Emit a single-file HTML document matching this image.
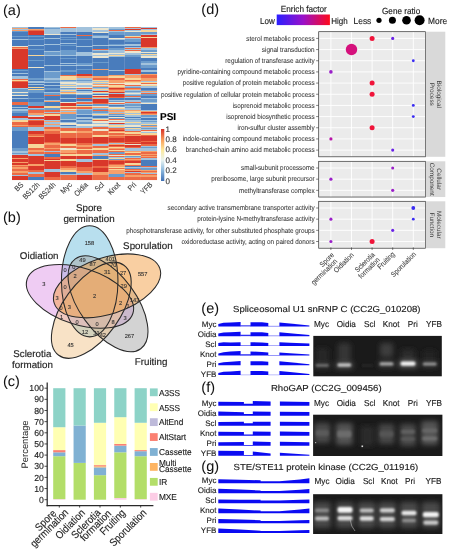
<!DOCTYPE html>
<html><head><meta charset="utf-8"><style>
html,body{margin:0;padding:0;background:#fff;width:450px;height:550px;overflow:hidden}
svg{display:block;filter:blur(0.3px)}
text{font-family:"Liberation Sans",sans-serif;text-rendering:geometricPrecision}
</style></head><body>
<svg width="450" height="550" viewBox="0 0 450 550">
<defs>
<linearGradient id="psi" x1="0" y1="1" x2="0" y2="0">
<stop offset="0" stop-color="#3f6fb5"/><stop offset="0.2" stop-color="#8ab7dd"/><stop offset="0.4" stop-color="#e8f3f0"/><stop offset="0.6" stop-color="#fee99a"/><stop offset="0.8" stop-color="#f89a58"/><stop offset="1" stop-color="#d73027"/>
</linearGradient>
<linearGradient id="enr" x1="0" y1="0" x2="1" y2="0">
<stop offset="0" stop-color="#2a1fff"/><stop offset="0.5" stop-color="#9a10c8"/><stop offset="1" stop-color="#ff0a1a"/>
</linearGradient>
<filter id="blur" x="-20%" y="-50%" width="140%" height="200%"><feGaussianBlur stdDeviation="1.25"/></filter>
<filter id="hblur" x="0" y="0" width="100%" height="100%"><feGaussianBlur stdDeviation="0.3 0.75"/></filter>
<filter id="blur2" x="-50%" y="-50%" width="200%" height="200%"><feGaussianBlur stdDeviation="2.6"/></filter>
</defs>
<text x="3.00" y="14.90" font-size="14.5" text-anchor="start" fill="#111" stroke="#111" stroke-width="0.020" font-weight="normal" >(a)</text>
<text x="3.00" y="221.80" font-size="14.5" text-anchor="start" fill="#111" stroke="#111" stroke-width="0.020" font-weight="normal" >(b)</text>
<text x="3.00" y="386.30" font-size="14.5" text-anchor="start" fill="#111" stroke="#111" stroke-width="0.020" font-weight="normal" >(c)</text>
<text x="201.30" y="14.20" font-size="14.5" text-anchor="start" fill="#111" stroke="#111" stroke-width="0.020" font-weight="normal" >(d)</text>
<text x="201.30" y="313.20" font-size="14.5" text-anchor="start" fill="#111" stroke="#111" stroke-width="0.020" font-weight="normal" >(e)</text>
<text x="201.30" y="392.20" font-size="14.5" text-anchor="start" fill="#111" stroke="#111" stroke-width="0.020" font-weight="normal" >(f)</text>
<text x="201.30" y="471.30" font-size="14.5" text-anchor="start" fill="#111" stroke="#111" stroke-width="0.020" font-weight="normal" >(g)</text>
<g filter="url(#hblur)">
<rect x="12.00" y="27.00" width="16.16" height="1.05" fill="#a2c2dc"/>
<rect x="12.00" y="28.00" width="16.16" height="1.05" fill="#f6a06a"/>
<rect x="12.00" y="29.00" width="16.16" height="1.05" fill="#a2c2dc"/>
<rect x="12.00" y="30.00" width="16.16" height="1.05" fill="#f6a06a"/>
<rect x="12.00" y="31.00" width="16.16" height="1.05" fill="#6c9ccc"/>
<rect x="12.00" y="32.00" width="16.16" height="4.05" fill="#4a7bbc"/>
<rect x="12.00" y="36.00" width="16.16" height="1.05" fill="#6c9ccc"/>
<rect x="12.00" y="37.00" width="16.16" height="2.05" fill="#4a7bbc"/>
<rect x="12.00" y="39.00" width="16.16" height="1.05" fill="#a2c2dc"/>
<rect x="12.00" y="40.00" width="16.16" height="6.05" fill="#4a7bbc"/>
<rect x="12.00" y="46.00" width="16.16" height="1.05" fill="#ece6cf"/>
<rect x="12.00" y="47.00" width="16.16" height="1.05" fill="#ec6a45"/>
<rect x="12.00" y="48.00" width="16.16" height="1.05" fill="#f6a06a"/>
<rect x="12.00" y="49.00" width="16.16" height="20.05" fill="#d9382c"/>
<rect x="12.00" y="69.00" width="16.16" height="1.05" fill="#4a7bbc"/>
<rect x="12.00" y="70.00" width="16.16" height="1.05" fill="#6c9ccc"/>
<rect x="12.00" y="71.00" width="16.16" height="2.05" fill="#4a7bbc"/>
<rect x="12.00" y="73.00" width="16.16" height="1.05" fill="#a2c2dc"/>
<rect x="12.00" y="74.00" width="16.16" height="2.05" fill="#4a7bbc"/>
<rect x="12.00" y="76.00" width="16.16" height="3.05" fill="#a2c2dc"/>
<rect x="12.00" y="79.00" width="16.16" height="1.05" fill="#ec6a45"/>
<rect x="12.00" y="80.00" width="16.16" height="1.05" fill="#f7d699"/>
<rect x="12.00" y="81.00" width="16.16" height="1.05" fill="#ec6a45"/>
<rect x="12.00" y="82.00" width="16.16" height="6.05" fill="#d9382c"/>
<rect x="12.00" y="88.00" width="16.16" height="1.05" fill="#a2c2dc"/>
<rect x="12.00" y="89.00" width="16.16" height="3.05" fill="#6c9ccc"/>
<rect x="12.00" y="92.00" width="16.16" height="1.05" fill="#ece6cf"/>
<rect x="12.00" y="93.00" width="16.16" height="2.05" fill="#6c9ccc"/>
<rect x="12.00" y="95.00" width="16.16" height="1.05" fill="#ece6cf"/>
<rect x="12.00" y="96.00" width="16.16" height="2.05" fill="#4a7bbc"/>
<rect x="12.00" y="98.00" width="16.16" height="1.05" fill="#a2c2dc"/>
<rect x="12.00" y="99.00" width="16.16" height="3.05" fill="#4a7bbc"/>
<rect x="12.00" y="102.00" width="16.16" height="3.05" fill="#ec6a45"/>
<rect x="12.00" y="105.00" width="16.16" height="2.05" fill="#4a7bbc"/>
<rect x="12.00" y="107.00" width="16.16" height="1.05" fill="#a2c2dc"/>
<rect x="12.00" y="108.00" width="16.16" height="1.05" fill="#4a7bbc"/>
<rect x="12.00" y="109.00" width="16.16" height="2.05" fill="#a2c2dc"/>
<rect x="12.00" y="111.00" width="16.16" height="2.05" fill="#6c9ccc"/>
<rect x="12.00" y="113.00" width="16.16" height="3.05" fill="#4a7bbc"/>
<rect x="12.00" y="116.00" width="16.16" height="2.05" fill="#d9382c"/>
<rect x="12.00" y="118.00" width="16.16" height="2.05" fill="#a2c2dc"/>
<rect x="12.00" y="120.00" width="16.16" height="2.05" fill="#f7d699"/>
<rect x="12.00" y="122.00" width="16.16" height="3.05" fill="#ec6a45"/>
<rect x="12.00" y="125.00" width="16.16" height="1.05" fill="#f6a06a"/>
<rect x="12.00" y="126.00" width="16.16" height="1.05" fill="#ec6a45"/>
<rect x="12.00" y="127.00" width="16.16" height="4.05" fill="#6c9ccc"/>
<rect x="12.00" y="131.00" width="16.16" height="17.05" fill="#4a7bbc"/>
<rect x="12.00" y="148.00" width="16.16" height="3.05" fill="#6c9ccc"/>
<rect x="12.00" y="151.00" width="16.16" height="2.05" fill="#a2c2dc"/>
<rect x="12.00" y="153.00" width="16.16" height="1.05" fill="#6c9ccc"/>
<rect x="12.00" y="154.00" width="16.16" height="1.05" fill="#a2c2dc"/>
<rect x="12.00" y="155.00" width="16.16" height="3.05" fill="#d9382c"/>
<rect x="12.00" y="158.00" width="16.16" height="1.05" fill="#f6a06a"/>
<rect x="12.00" y="159.00" width="16.16" height="3.05" fill="#d9382c"/>
<rect x="12.00" y="162.00" width="16.16" height="1.05" fill="#f6a06a"/>
<rect x="12.00" y="163.00" width="16.16" height="2.05" fill="#d9382c"/>
<rect x="12.00" y="165.00" width="16.16" height="1.05" fill="#f6a06a"/>
<rect x="12.00" y="166.00" width="16.16" height="1.05" fill="#ec6a45"/>
<rect x="12.00" y="167.00" width="16.16" height="2.05" fill="#f6a06a"/>
<rect x="12.00" y="169.00" width="16.16" height="2.05" fill="#ec6a45"/>
<rect x="12.00" y="171.00" width="16.16" height="2.05" fill="#f6a06a"/>
<rect x="12.00" y="173.00" width="16.16" height="2.05" fill="#ec6a45"/>
<rect x="12.00" y="175.00" width="16.16" height="1.05" fill="#a2c2dc"/>
<rect x="12.00" y="176.00" width="16.16" height="4.05" fill="#d9382c"/>
<rect x="28.11" y="27.00" width="16.16" height="2.05" fill="#4a7bbc"/>
<rect x="28.11" y="29.00" width="16.16" height="1.05" fill="#f6a06a"/>
<rect x="28.11" y="30.00" width="16.16" height="1.05" fill="#ec6a45"/>
<rect x="28.11" y="31.00" width="16.16" height="4.05" fill="#d9382c"/>
<rect x="28.11" y="35.00" width="16.16" height="1.05" fill="#4a7bbc"/>
<rect x="28.11" y="36.00" width="16.16" height="1.05" fill="#6c9ccc"/>
<rect x="28.11" y="37.00" width="16.16" height="2.05" fill="#4a7bbc"/>
<rect x="28.11" y="39.00" width="16.16" height="1.05" fill="#6c9ccc"/>
<rect x="28.11" y="40.00" width="16.16" height="5.05" fill="#4a7bbc"/>
<rect x="28.11" y="45.00" width="16.16" height="1.05" fill="#a2c2dc"/>
<rect x="28.11" y="46.00" width="16.16" height="3.05" fill="#4a7bbc"/>
<rect x="28.11" y="49.00" width="16.16" height="1.05" fill="#6c9ccc"/>
<rect x="28.11" y="50.00" width="16.16" height="5.05" fill="#4a7bbc"/>
<rect x="28.11" y="55.00" width="16.16" height="1.05" fill="#f7d699"/>
<rect x="28.11" y="56.00" width="16.16" height="4.05" fill="#4a7bbc"/>
<rect x="28.11" y="60.00" width="16.16" height="1.05" fill="#6c9ccc"/>
<rect x="28.11" y="61.00" width="16.16" height="6.05" fill="#4a7bbc"/>
<rect x="28.11" y="67.00" width="16.16" height="1.05" fill="#ece6cf"/>
<rect x="28.11" y="68.00" width="16.16" height="10.05" fill="#4a7bbc"/>
<rect x="28.11" y="78.00" width="16.16" height="2.05" fill="#6c9ccc"/>
<rect x="28.11" y="80.00" width="16.16" height="1.05" fill="#4a7bbc"/>
<rect x="28.11" y="81.00" width="16.16" height="2.05" fill="#a2c2dc"/>
<rect x="28.11" y="83.00" width="16.16" height="1.05" fill="#4a7bbc"/>
<rect x="28.11" y="84.00" width="16.16" height="1.05" fill="#a2c2dc"/>
<rect x="28.11" y="85.00" width="16.16" height="2.05" fill="#4a7bbc"/>
<rect x="28.11" y="87.00" width="16.16" height="1.05" fill="#f7d699"/>
<rect x="28.11" y="88.00" width="16.16" height="1.05" fill="#4a7bbc"/>
<rect x="28.11" y="89.00" width="16.16" height="1.05" fill="#f7d699"/>
<rect x="28.11" y="90.00" width="16.16" height="3.05" fill="#6c9ccc"/>
<rect x="28.11" y="93.00" width="16.16" height="5.05" fill="#4a7bbc"/>
<rect x="28.11" y="98.00" width="16.16" height="1.05" fill="#6c9ccc"/>
<rect x="28.11" y="99.00" width="16.16" height="3.05" fill="#4a7bbc"/>
<rect x="28.11" y="102.00" width="16.16" height="4.05" fill="#6c9ccc"/>
<rect x="28.11" y="106.00" width="16.16" height="2.05" fill="#d9382c"/>
<rect x="28.11" y="108.00" width="16.16" height="1.05" fill="#a2c2dc"/>
<rect x="28.11" y="109.00" width="16.16" height="1.05" fill="#6c9ccc"/>
<rect x="28.11" y="110.00" width="16.16" height="3.05" fill="#ec6a45"/>
<rect x="28.11" y="113.00" width="16.16" height="2.05" fill="#f6a06a"/>
<rect x="28.11" y="115.00" width="16.16" height="1.05" fill="#a2c2dc"/>
<rect x="28.11" y="116.00" width="16.16" height="1.05" fill="#ece6cf"/>
<rect x="28.11" y="117.00" width="16.16" height="2.05" fill="#d9382c"/>
<rect x="28.11" y="119.00" width="16.16" height="1.05" fill="#a2c2dc"/>
<rect x="28.11" y="120.00" width="16.16" height="1.05" fill="#ec6a45"/>
<rect x="28.11" y="121.00" width="16.16" height="4.05" fill="#d9382c"/>
<rect x="28.11" y="125.00" width="16.16" height="2.05" fill="#ec6a45"/>
<rect x="28.11" y="127.00" width="16.16" height="4.05" fill="#a2c2dc"/>
<rect x="28.11" y="131.00" width="16.16" height="3.05" fill="#d9382c"/>
<rect x="28.11" y="134.00" width="16.16" height="2.05" fill="#ec6a45"/>
<rect x="28.11" y="136.00" width="16.16" height="1.05" fill="#f6a06a"/>
<rect x="28.11" y="137.00" width="16.16" height="7.05" fill="#d9382c"/>
<rect x="28.11" y="144.00" width="16.16" height="4.05" fill="#f7d699"/>
<rect x="28.11" y="148.00" width="16.16" height="2.05" fill="#ec6a45"/>
<rect x="28.11" y="150.00" width="16.16" height="2.05" fill="#f6a06a"/>
<rect x="28.11" y="152.00" width="16.16" height="2.05" fill="#ec6a45"/>
<rect x="28.11" y="154.00" width="16.16" height="2.05" fill="#a2c2dc"/>
<rect x="28.11" y="156.00" width="16.16" height="8.05" fill="#d9382c"/>
<rect x="28.11" y="164.00" width="16.16" height="2.05" fill="#f6a06a"/>
<rect x="28.11" y="166.00" width="16.16" height="4.05" fill="#d9382c"/>
<rect x="28.11" y="170.00" width="16.16" height="2.05" fill="#ec6a45"/>
<rect x="28.11" y="172.00" width="16.16" height="2.05" fill="#a2c2dc"/>
<rect x="28.11" y="174.00" width="16.16" height="3.05" fill="#ec6a45"/>
<rect x="28.11" y="177.00" width="16.16" height="3.05" fill="#4a7bbc"/>
<rect x="44.22" y="27.00" width="16.16" height="1.05" fill="#a2c2dc"/>
<rect x="44.22" y="28.00" width="16.16" height="1.05" fill="#6c9ccc"/>
<rect x="44.22" y="29.00" width="16.16" height="5.05" fill="#a2c2dc"/>
<rect x="44.22" y="34.00" width="16.16" height="1.05" fill="#ece6cf"/>
<rect x="44.22" y="35.00" width="16.16" height="3.05" fill="#4a7bbc"/>
<rect x="44.22" y="38.00" width="16.16" height="1.05" fill="#a2c2dc"/>
<rect x="44.22" y="39.00" width="16.16" height="5.05" fill="#4a7bbc"/>
<rect x="44.22" y="44.00" width="16.16" height="1.05" fill="#a2c2dc"/>
<rect x="44.22" y="45.00" width="16.16" height="6.05" fill="#4a7bbc"/>
<rect x="44.22" y="51.00" width="16.16" height="1.05" fill="#a2c2dc"/>
<rect x="44.22" y="52.00" width="16.16" height="3.05" fill="#6c9ccc"/>
<rect x="44.22" y="55.00" width="16.16" height="1.05" fill="#a2c2dc"/>
<rect x="44.22" y="56.00" width="16.16" height="9.05" fill="#4a7bbc"/>
<rect x="44.22" y="65.00" width="16.16" height="1.05" fill="#a2c2dc"/>
<rect x="44.22" y="66.00" width="16.16" height="5.05" fill="#4a7bbc"/>
<rect x="44.22" y="71.00" width="16.16" height="1.05" fill="#a2c2dc"/>
<rect x="44.22" y="72.00" width="16.16" height="6.05" fill="#6c9ccc"/>
<rect x="44.22" y="78.00" width="16.16" height="2.05" fill="#a2c2dc"/>
<rect x="44.22" y="80.00" width="16.16" height="2.05" fill="#6c9ccc"/>
<rect x="44.22" y="82.00" width="16.16" height="1.05" fill="#a2c2dc"/>
<rect x="44.22" y="83.00" width="16.16" height="2.05" fill="#4a7bbc"/>
<rect x="44.22" y="85.00" width="16.16" height="1.05" fill="#a2c2dc"/>
<rect x="44.22" y="86.00" width="16.16" height="2.05" fill="#4a7bbc"/>
<rect x="44.22" y="88.00" width="16.16" height="2.05" fill="#6c9ccc"/>
<rect x="44.22" y="90.00" width="16.16" height="2.05" fill="#4a7bbc"/>
<rect x="44.22" y="92.00" width="16.16" height="1.05" fill="#a2c2dc"/>
<rect x="44.22" y="93.00" width="16.16" height="2.05" fill="#6c9ccc"/>
<rect x="44.22" y="95.00" width="16.16" height="1.05" fill="#ec6a45"/>
<rect x="44.22" y="96.00" width="16.16" height="4.05" fill="#4a7bbc"/>
<rect x="44.22" y="100.00" width="16.16" height="1.05" fill="#a2c2dc"/>
<rect x="44.22" y="101.00" width="16.16" height="1.05" fill="#f6a06a"/>
<rect x="44.22" y="102.00" width="16.16" height="4.05" fill="#4a7bbc"/>
<rect x="44.22" y="106.00" width="16.16" height="2.05" fill="#f7d699"/>
<rect x="44.22" y="108.00" width="16.16" height="2.05" fill="#6c9ccc"/>
<rect x="44.22" y="110.00" width="16.16" height="2.05" fill="#ec6a45"/>
<rect x="44.22" y="112.00" width="16.16" height="1.05" fill="#a2c2dc"/>
<rect x="44.22" y="113.00" width="16.16" height="1.05" fill="#ec6a45"/>
<rect x="44.22" y="114.00" width="16.16" height="2.05" fill="#f7d699"/>
<rect x="44.22" y="116.00" width="16.16" height="4.05" fill="#d9382c"/>
<rect x="44.22" y="120.00" width="16.16" height="1.05" fill="#a2c2dc"/>
<rect x="44.22" y="121.00" width="16.16" height="1.05" fill="#f6a06a"/>
<rect x="44.22" y="122.00" width="16.16" height="2.05" fill="#a2c2dc"/>
<rect x="44.22" y="124.00" width="16.16" height="1.05" fill="#f6a06a"/>
<rect x="44.22" y="125.00" width="16.16" height="2.05" fill="#a2c2dc"/>
<rect x="44.22" y="127.00" width="16.16" height="2.05" fill="#ec6a45"/>
<rect x="44.22" y="129.00" width="16.16" height="2.05" fill="#f6a06a"/>
<rect x="44.22" y="131.00" width="16.16" height="3.05" fill="#ec6a45"/>
<rect x="44.22" y="134.00" width="16.16" height="8.05" fill="#d9382c"/>
<rect x="44.22" y="142.00" width="16.16" height="1.05" fill="#ec6a45"/>
<rect x="44.22" y="143.00" width="16.16" height="2.05" fill="#f6a06a"/>
<rect x="44.22" y="145.00" width="16.16" height="3.05" fill="#ec6a45"/>
<rect x="44.22" y="148.00" width="16.16" height="1.05" fill="#f6a06a"/>
<rect x="44.22" y="149.00" width="16.16" height="2.05" fill="#ec6a45"/>
<rect x="44.22" y="151.00" width="16.16" height="1.05" fill="#a2c2dc"/>
<rect x="44.22" y="152.00" width="16.16" height="2.05" fill="#ec6a45"/>
<rect x="44.22" y="154.00" width="16.16" height="3.05" fill="#4a7bbc"/>
<rect x="44.22" y="157.00" width="16.16" height="2.05" fill="#ec6a45"/>
<rect x="44.22" y="159.00" width="16.16" height="1.05" fill="#d9382c"/>
<rect x="44.22" y="160.00" width="16.16" height="1.05" fill="#f7d699"/>
<rect x="44.22" y="161.00" width="16.16" height="8.05" fill="#d9382c"/>
<rect x="44.22" y="169.00" width="16.16" height="3.05" fill="#a2c2dc"/>
<rect x="44.22" y="172.00" width="16.16" height="5.05" fill="#d9382c"/>
<rect x="44.22" y="177.00" width="16.16" height="3.05" fill="#ec6a45"/>
<rect x="60.33" y="27.00" width="16.16" height="1.05" fill="#ec6a45"/>
<rect x="60.33" y="28.00" width="16.16" height="4.05" fill="#a2c2dc"/>
<rect x="60.33" y="32.00" width="16.16" height="2.05" fill="#4a7bbc"/>
<rect x="60.33" y="34.00" width="16.16" height="1.05" fill="#a2c2dc"/>
<rect x="60.33" y="35.00" width="16.16" height="2.05" fill="#4a7bbc"/>
<rect x="60.33" y="37.00" width="16.16" height="1.05" fill="#6c9ccc"/>
<rect x="60.33" y="38.00" width="16.16" height="1.05" fill="#4a7bbc"/>
<rect x="60.33" y="39.00" width="16.16" height="1.05" fill="#6c9ccc"/>
<rect x="60.33" y="40.00" width="16.16" height="3.05" fill="#4a7bbc"/>
<rect x="60.33" y="43.00" width="16.16" height="1.05" fill="#a2c2dc"/>
<rect x="60.33" y="44.00" width="16.16" height="1.05" fill="#4a7bbc"/>
<rect x="60.33" y="45.00" width="16.16" height="1.05" fill="#6c9ccc"/>
<rect x="60.33" y="46.00" width="16.16" height="4.05" fill="#4a7bbc"/>
<rect x="60.33" y="50.00" width="16.16" height="5.05" fill="#6c9ccc"/>
<rect x="60.33" y="55.00" width="16.16" height="1.05" fill="#a2c2dc"/>
<rect x="60.33" y="56.00" width="16.16" height="2.05" fill="#4a7bbc"/>
<rect x="60.33" y="58.00" width="16.16" height="1.05" fill="#6c9ccc"/>
<rect x="60.33" y="59.00" width="16.16" height="4.05" fill="#4a7bbc"/>
<rect x="60.33" y="63.00" width="16.16" height="1.05" fill="#a2c2dc"/>
<rect x="60.33" y="64.00" width="16.16" height="1.05" fill="#4a7bbc"/>
<rect x="60.33" y="65.00" width="16.16" height="1.05" fill="#a2c2dc"/>
<rect x="60.33" y="66.00" width="16.16" height="4.05" fill="#4a7bbc"/>
<rect x="60.33" y="70.00" width="16.16" height="2.05" fill="#6c9ccc"/>
<rect x="60.33" y="72.00" width="16.16" height="3.05" fill="#4a7bbc"/>
<rect x="60.33" y="75.00" width="16.16" height="1.05" fill="#ec6a45"/>
<rect x="60.33" y="76.00" width="16.16" height="4.05" fill="#f7d699"/>
<rect x="60.33" y="80.00" width="16.16" height="1.05" fill="#6c9ccc"/>
<rect x="60.33" y="81.00" width="16.16" height="1.05" fill="#a2c2dc"/>
<rect x="60.33" y="82.00" width="16.16" height="2.05" fill="#ece6cf"/>
<rect x="60.33" y="84.00" width="16.16" height="1.05" fill="#a2c2dc"/>
<rect x="60.33" y="85.00" width="16.16" height="1.05" fill="#f7d699"/>
<rect x="60.33" y="86.00" width="16.16" height="1.05" fill="#a2c2dc"/>
<rect x="60.33" y="87.00" width="16.16" height="1.05" fill="#ece6cf"/>
<rect x="60.33" y="88.00" width="16.16" height="1.05" fill="#6c9ccc"/>
<rect x="60.33" y="89.00" width="16.16" height="1.05" fill="#a2c2dc"/>
<rect x="60.33" y="90.00" width="16.16" height="1.05" fill="#f7d699"/>
<rect x="60.33" y="91.00" width="16.16" height="1.05" fill="#a2c2dc"/>
<rect x="60.33" y="92.00" width="16.16" height="1.05" fill="#f6a06a"/>
<rect x="60.33" y="93.00" width="16.16" height="1.05" fill="#f7d699"/>
<rect x="60.33" y="94.00" width="16.16" height="1.05" fill="#6c9ccc"/>
<rect x="60.33" y="95.00" width="16.16" height="3.05" fill="#4a7bbc"/>
<rect x="60.33" y="98.00" width="16.16" height="1.05" fill="#a2c2dc"/>
<rect x="60.33" y="99.00" width="16.16" height="3.05" fill="#4a7bbc"/>
<rect x="60.33" y="102.00" width="16.16" height="1.05" fill="#ece6cf"/>
<rect x="60.33" y="103.00" width="16.16" height="3.05" fill="#d9382c"/>
<rect x="60.33" y="106.00" width="16.16" height="1.05" fill="#f7d699"/>
<rect x="60.33" y="107.00" width="16.16" height="2.05" fill="#ec6a45"/>
<rect x="60.33" y="109.00" width="16.16" height="1.05" fill="#ece6cf"/>
<rect x="60.33" y="110.00" width="16.16" height="1.05" fill="#f6a06a"/>
<rect x="60.33" y="111.00" width="16.16" height="1.05" fill="#a2c2dc"/>
<rect x="60.33" y="112.00" width="16.16" height="2.05" fill="#f6a06a"/>
<rect x="60.33" y="114.00" width="16.16" height="5.05" fill="#6c9ccc"/>
<rect x="60.33" y="119.00" width="16.16" height="1.05" fill="#a2c2dc"/>
<rect x="60.33" y="120.00" width="16.16" height="2.05" fill="#4a7bbc"/>
<rect x="60.33" y="122.00" width="16.16" height="1.05" fill="#a2c2dc"/>
<rect x="60.33" y="123.00" width="16.16" height="2.05" fill="#ece6cf"/>
<rect x="60.33" y="125.00" width="16.16" height="1.05" fill="#4a7bbc"/>
<rect x="60.33" y="126.00" width="16.16" height="2.05" fill="#a2c2dc"/>
<rect x="60.33" y="128.00" width="16.16" height="3.05" fill="#ec6a45"/>
<rect x="60.33" y="131.00" width="16.16" height="2.05" fill="#f7d699"/>
<rect x="60.33" y="133.00" width="16.16" height="5.05" fill="#ec6a45"/>
<rect x="60.33" y="138.00" width="16.16" height="5.05" fill="#d9382c"/>
<rect x="60.33" y="143.00" width="16.16" height="1.05" fill="#ec6a45"/>
<rect x="60.33" y="144.00" width="16.16" height="2.05" fill="#f7d699"/>
<rect x="60.33" y="146.00" width="16.16" height="2.05" fill="#ec6a45"/>
<rect x="60.33" y="148.00" width="16.16" height="2.05" fill="#ece6cf"/>
<rect x="60.33" y="150.00" width="16.16" height="3.05" fill="#f6a06a"/>
<rect x="60.33" y="153.00" width="16.16" height="1.05" fill="#ec6a45"/>
<rect x="60.33" y="154.00" width="16.16" height="2.05" fill="#f7d699"/>
<rect x="60.33" y="156.00" width="16.16" height="3.05" fill="#d9382c"/>
<rect x="60.33" y="159.00" width="16.16" height="2.05" fill="#f7d699"/>
<rect x="60.33" y="161.00" width="16.16" height="5.05" fill="#d9382c"/>
<rect x="60.33" y="166.00" width="16.16" height="2.05" fill="#ec6a45"/>
<rect x="60.33" y="168.00" width="16.16" height="2.05" fill="#f6a06a"/>
<rect x="60.33" y="170.00" width="16.16" height="2.05" fill="#f7d699"/>
<rect x="60.33" y="172.00" width="16.16" height="2.05" fill="#4a7bbc"/>
<rect x="60.33" y="174.00" width="16.16" height="1.05" fill="#a2c2dc"/>
<rect x="60.33" y="175.00" width="16.16" height="5.05" fill="#ec6a45"/>
<rect x="76.44" y="27.00" width="16.16" height="5.05" fill="#a2c2dc"/>
<rect x="76.44" y="32.00" width="16.16" height="3.05" fill="#4a7bbc"/>
<rect x="76.44" y="35.00" width="16.16" height="1.05" fill="#ec6a45"/>
<rect x="76.44" y="36.00" width="16.16" height="3.05" fill="#4a7bbc"/>
<rect x="76.44" y="39.00" width="16.16" height="1.05" fill="#6c9ccc"/>
<rect x="76.44" y="40.00" width="16.16" height="6.05" fill="#4a7bbc"/>
<rect x="76.44" y="46.00" width="16.16" height="1.05" fill="#a2c2dc"/>
<rect x="76.44" y="47.00" width="16.16" height="5.05" fill="#4a7bbc"/>
<rect x="76.44" y="52.00" width="16.16" height="4.05" fill="#a2c2dc"/>
<rect x="76.44" y="56.00" width="16.16" height="7.05" fill="#4a7bbc"/>
<rect x="76.44" y="63.00" width="16.16" height="2.05" fill="#6c9ccc"/>
<rect x="76.44" y="65.00" width="16.16" height="1.05" fill="#a2c2dc"/>
<rect x="76.44" y="66.00" width="16.16" height="3.05" fill="#4a7bbc"/>
<rect x="76.44" y="69.00" width="16.16" height="1.05" fill="#6c9ccc"/>
<rect x="76.44" y="70.00" width="16.16" height="4.05" fill="#4a7bbc"/>
<rect x="76.44" y="74.00" width="16.16" height="2.05" fill="#d9382c"/>
<rect x="76.44" y="76.00" width="16.16" height="2.05" fill="#f6a06a"/>
<rect x="76.44" y="78.00" width="16.16" height="2.05" fill="#a2c2dc"/>
<rect x="76.44" y="80.00" width="16.16" height="1.05" fill="#6c9ccc"/>
<rect x="76.44" y="81.00" width="16.16" height="2.05" fill="#a2c2dc"/>
<rect x="76.44" y="83.00" width="16.16" height="2.05" fill="#ece6cf"/>
<rect x="76.44" y="85.00" width="16.16" height="2.05" fill="#a2c2dc"/>
<rect x="76.44" y="87.00" width="16.16" height="1.05" fill="#ece6cf"/>
<rect x="76.44" y="88.00" width="16.16" height="1.05" fill="#ec6a45"/>
<rect x="76.44" y="89.00" width="16.16" height="1.05" fill="#a2c2dc"/>
<rect x="76.44" y="90.00" width="16.16" height="1.05" fill="#4a7bbc"/>
<rect x="76.44" y="91.00" width="16.16" height="2.05" fill="#a2c2dc"/>
<rect x="76.44" y="93.00" width="16.16" height="1.05" fill="#ece6cf"/>
<rect x="76.44" y="94.00" width="16.16" height="1.05" fill="#a2c2dc"/>
<rect x="76.44" y="95.00" width="16.16" height="3.05" fill="#4a7bbc"/>
<rect x="76.44" y="98.00" width="16.16" height="1.05" fill="#ec6a45"/>
<rect x="76.44" y="99.00" width="16.16" height="2.05" fill="#4a7bbc"/>
<rect x="76.44" y="101.00" width="16.16" height="1.05" fill="#a2c2dc"/>
<rect x="76.44" y="102.00" width="16.16" height="2.05" fill="#ec6a45"/>
<rect x="76.44" y="104.00" width="16.16" height="1.05" fill="#a2c2dc"/>
<rect x="76.44" y="105.00" width="16.16" height="1.05" fill="#4a7bbc"/>
<rect x="76.44" y="106.00" width="16.16" height="1.05" fill="#f7d699"/>
<rect x="76.44" y="107.00" width="16.16" height="2.05" fill="#ec6a45"/>
<rect x="76.44" y="109.00" width="16.16" height="1.05" fill="#a2c2dc"/>
<rect x="76.44" y="110.00" width="16.16" height="4.05" fill="#6c9ccc"/>
<rect x="76.44" y="114.00" width="16.16" height="1.05" fill="#a2c2dc"/>
<rect x="76.44" y="115.00" width="16.16" height="2.05" fill="#4a7bbc"/>
<rect x="76.44" y="117.00" width="16.16" height="2.05" fill="#a2c2dc"/>
<rect x="76.44" y="119.00" width="16.16" height="1.05" fill="#4a7bbc"/>
<rect x="76.44" y="120.00" width="16.16" height="2.05" fill="#a2c2dc"/>
<rect x="76.44" y="122.00" width="16.16" height="2.05" fill="#6c9ccc"/>
<rect x="76.44" y="124.00" width="16.16" height="2.05" fill="#ece6cf"/>
<rect x="76.44" y="126.00" width="16.16" height="2.05" fill="#a2c2dc"/>
<rect x="76.44" y="128.00" width="16.16" height="3.05" fill="#ec6a45"/>
<rect x="76.44" y="131.00" width="16.16" height="2.05" fill="#f6a06a"/>
<rect x="76.44" y="133.00" width="16.16" height="5.05" fill="#ec6a45"/>
<rect x="76.44" y="138.00" width="16.16" height="5.05" fill="#d9382c"/>
<rect x="76.44" y="143.00" width="16.16" height="2.05" fill="#ec6a45"/>
<rect x="76.44" y="145.00" width="16.16" height="2.05" fill="#f6a06a"/>
<rect x="76.44" y="147.00" width="16.16" height="2.05" fill="#ec6a45"/>
<rect x="76.44" y="149.00" width="16.16" height="1.05" fill="#f7d699"/>
<rect x="76.44" y="150.00" width="16.16" height="4.05" fill="#ec6a45"/>
<rect x="76.44" y="154.00" width="16.16" height="2.05" fill="#f7d699"/>
<rect x="76.44" y="156.00" width="16.16" height="3.05" fill="#d9382c"/>
<rect x="76.44" y="159.00" width="16.16" height="3.05" fill="#a2c2dc"/>
<rect x="76.44" y="162.00" width="16.16" height="5.05" fill="#d9382c"/>
<rect x="76.44" y="167.00" width="16.16" height="4.05" fill="#ec6a45"/>
<rect x="76.44" y="171.00" width="16.16" height="2.05" fill="#f6a06a"/>
<rect x="76.44" y="173.00" width="16.16" height="2.05" fill="#a2c2dc"/>
<rect x="76.44" y="175.00" width="16.16" height="5.05" fill="#d9382c"/>
<rect x="92.56" y="27.00" width="16.16" height="1.05" fill="#a2c2dc"/>
<rect x="92.56" y="28.00" width="16.16" height="2.05" fill="#ece6cf"/>
<rect x="92.56" y="30.00" width="16.16" height="2.05" fill="#a2c2dc"/>
<rect x="92.56" y="32.00" width="16.16" height="1.05" fill="#ece6cf"/>
<rect x="92.56" y="33.00" width="16.16" height="2.05" fill="#4a7bbc"/>
<rect x="92.56" y="35.00" width="16.16" height="1.05" fill="#6c9ccc"/>
<rect x="92.56" y="36.00" width="16.16" height="2.05" fill="#a2c2dc"/>
<rect x="92.56" y="38.00" width="16.16" height="7.05" fill="#4a7bbc"/>
<rect x="92.56" y="45.00" width="16.16" height="1.05" fill="#a2c2dc"/>
<rect x="92.56" y="46.00" width="16.16" height="3.05" fill="#4a7bbc"/>
<rect x="92.56" y="49.00" width="16.16" height="1.05" fill="#ec6a45"/>
<rect x="92.56" y="50.00" width="16.16" height="1.05" fill="#a2c2dc"/>
<rect x="92.56" y="51.00" width="16.16" height="2.05" fill="#6c9ccc"/>
<rect x="92.56" y="53.00" width="16.16" height="2.05" fill="#ece6cf"/>
<rect x="92.56" y="55.00" width="16.16" height="1.05" fill="#a2c2dc"/>
<rect x="92.56" y="56.00" width="16.16" height="2.05" fill="#ece6cf"/>
<rect x="92.56" y="58.00" width="16.16" height="4.05" fill="#4a7bbc"/>
<rect x="92.56" y="62.00" width="16.16" height="1.05" fill="#6c9ccc"/>
<rect x="92.56" y="63.00" width="16.16" height="6.05" fill="#4a7bbc"/>
<rect x="92.56" y="69.00" width="16.16" height="1.05" fill="#f6a06a"/>
<rect x="92.56" y="70.00" width="16.16" height="6.05" fill="#4a7bbc"/>
<rect x="92.56" y="76.00" width="16.16" height="2.05" fill="#f6a06a"/>
<rect x="92.56" y="78.00" width="16.16" height="2.05" fill="#ec6a45"/>
<rect x="92.56" y="80.00" width="16.16" height="1.05" fill="#f7d699"/>
<rect x="92.56" y="81.00" width="16.16" height="1.05" fill="#a2c2dc"/>
<rect x="92.56" y="82.00" width="16.16" height="1.05" fill="#f7d699"/>
<rect x="92.56" y="83.00" width="16.16" height="1.05" fill="#a2c2dc"/>
<rect x="92.56" y="84.00" width="16.16" height="1.05" fill="#f6a06a"/>
<rect x="92.56" y="85.00" width="16.16" height="1.05" fill="#ece6cf"/>
<rect x="92.56" y="86.00" width="16.16" height="1.05" fill="#f6a06a"/>
<rect x="92.56" y="87.00" width="16.16" height="1.05" fill="#6c9ccc"/>
<rect x="92.56" y="88.00" width="16.16" height="1.05" fill="#a2c2dc"/>
<rect x="92.56" y="89.00" width="16.16" height="1.05" fill="#f7d699"/>
<rect x="92.56" y="90.00" width="16.16" height="1.05" fill="#a2c2dc"/>
<rect x="92.56" y="91.00" width="16.16" height="1.05" fill="#d9382c"/>
<rect x="92.56" y="92.00" width="16.16" height="1.05" fill="#f7d699"/>
<rect x="92.56" y="93.00" width="16.16" height="1.05" fill="#a2c2dc"/>
<rect x="92.56" y="94.00" width="16.16" height="1.05" fill="#4a7bbc"/>
<rect x="92.56" y="95.00" width="16.16" height="1.05" fill="#ece6cf"/>
<rect x="92.56" y="96.00" width="16.16" height="1.05" fill="#d9382c"/>
<rect x="92.56" y="97.00" width="16.16" height="1.05" fill="#f6a06a"/>
<rect x="92.56" y="98.00" width="16.16" height="1.05" fill="#a2c2dc"/>
<rect x="92.56" y="99.00" width="16.16" height="4.05" fill="#d9382c"/>
<rect x="92.56" y="103.00" width="16.16" height="1.05" fill="#ec6a45"/>
<rect x="92.56" y="104.00" width="16.16" height="2.05" fill="#6c9ccc"/>
<rect x="92.56" y="106.00" width="16.16" height="1.05" fill="#ece6cf"/>
<rect x="92.56" y="107.00" width="16.16" height="1.05" fill="#f6a06a"/>
<rect x="92.56" y="108.00" width="16.16" height="1.05" fill="#a2c2dc"/>
<rect x="92.56" y="109.00" width="16.16" height="1.05" fill="#6c9ccc"/>
<rect x="92.56" y="110.00" width="16.16" height="1.05" fill="#ec6a45"/>
<rect x="92.56" y="111.00" width="16.16" height="2.05" fill="#6c9ccc"/>
<rect x="92.56" y="113.00" width="16.16" height="1.05" fill="#a2c2dc"/>
<rect x="92.56" y="114.00" width="16.16" height="1.05" fill="#f7d699"/>
<rect x="92.56" y="115.00" width="16.16" height="1.05" fill="#a2c2dc"/>
<rect x="92.56" y="116.00" width="16.16" height="2.05" fill="#4a7bbc"/>
<rect x="92.56" y="118.00" width="16.16" height="1.05" fill="#a2c2dc"/>
<rect x="92.56" y="119.00" width="16.16" height="1.05" fill="#f7d699"/>
<rect x="92.56" y="120.00" width="16.16" height="1.05" fill="#ec6a45"/>
<rect x="92.56" y="121.00" width="16.16" height="2.05" fill="#ece6cf"/>
<rect x="92.56" y="123.00" width="16.16" height="1.05" fill="#a2c2dc"/>
<rect x="92.56" y="124.00" width="16.16" height="2.05" fill="#ece6cf"/>
<rect x="92.56" y="126.00" width="16.16" height="1.05" fill="#a2c2dc"/>
<rect x="92.56" y="127.00" width="16.16" height="2.05" fill="#ec6a45"/>
<rect x="92.56" y="129.00" width="16.16" height="2.05" fill="#ece6cf"/>
<rect x="92.56" y="131.00" width="16.16" height="4.05" fill="#ec6a45"/>
<rect x="92.56" y="135.00" width="16.16" height="2.05" fill="#f7d699"/>
<rect x="92.56" y="137.00" width="16.16" height="6.05" fill="#d9382c"/>
<rect x="92.56" y="143.00" width="16.16" height="1.05" fill="#ec6a45"/>
<rect x="92.56" y="144.00" width="16.16" height="2.05" fill="#a2c2dc"/>
<rect x="92.56" y="146.00" width="16.16" height="2.05" fill="#ec6a45"/>
<rect x="92.56" y="148.00" width="16.16" height="2.05" fill="#f7d699"/>
<rect x="92.56" y="150.00" width="16.16" height="3.05" fill="#ec6a45"/>
<rect x="92.56" y="153.00" width="16.16" height="2.05" fill="#a2c2dc"/>
<rect x="92.56" y="155.00" width="16.16" height="1.05" fill="#f6a06a"/>
<rect x="92.56" y="156.00" width="16.16" height="3.05" fill="#4a7bbc"/>
<rect x="92.56" y="159.00" width="16.16" height="1.05" fill="#f7d699"/>
<rect x="92.56" y="160.00" width="16.16" height="6.05" fill="#d9382c"/>
<rect x="92.56" y="166.00" width="16.16" height="2.05" fill="#ec6a45"/>
<rect x="92.56" y="168.00" width="16.16" height="4.05" fill="#d9382c"/>
<rect x="92.56" y="172.00" width="16.16" height="3.05" fill="#f6a06a"/>
<rect x="92.56" y="175.00" width="16.16" height="5.05" fill="#ec6a45"/>
<rect x="108.67" y="27.00" width="16.16" height="2.05" fill="#a2c2dc"/>
<rect x="108.67" y="29.00" width="16.16" height="1.05" fill="#6c9ccc"/>
<rect x="108.67" y="30.00" width="16.16" height="1.05" fill="#ec6a45"/>
<rect x="108.67" y="31.00" width="16.16" height="1.05" fill="#a2c2dc"/>
<rect x="108.67" y="32.00" width="16.16" height="3.05" fill="#6c9ccc"/>
<rect x="108.67" y="35.00" width="16.16" height="3.05" fill="#4a7bbc"/>
<rect x="108.67" y="38.00" width="16.16" height="1.05" fill="#ece6cf"/>
<rect x="108.67" y="39.00" width="16.16" height="1.05" fill="#a2c2dc"/>
<rect x="108.67" y="40.00" width="16.16" height="4.05" fill="#4a7bbc"/>
<rect x="108.67" y="44.00" width="16.16" height="1.05" fill="#6c9ccc"/>
<rect x="108.67" y="45.00" width="16.16" height="1.05" fill="#a2c2dc"/>
<rect x="108.67" y="46.00" width="16.16" height="2.05" fill="#4a7bbc"/>
<rect x="108.67" y="48.00" width="16.16" height="2.05" fill="#6c9ccc"/>
<rect x="108.67" y="50.00" width="16.16" height="3.05" fill="#a2c2dc"/>
<rect x="108.67" y="53.00" width="16.16" height="1.05" fill="#ece6cf"/>
<rect x="108.67" y="54.00" width="16.16" height="1.05" fill="#a2c2dc"/>
<rect x="108.67" y="55.00" width="16.16" height="1.05" fill="#f7d699"/>
<rect x="108.67" y="56.00" width="16.16" height="1.05" fill="#a2c2dc"/>
<rect x="108.67" y="57.00" width="16.16" height="13.05" fill="#4a7bbc"/>
<rect x="108.67" y="70.00" width="16.16" height="1.05" fill="#a2c2dc"/>
<rect x="108.67" y="71.00" width="16.16" height="4.05" fill="#4a7bbc"/>
<rect x="108.67" y="75.00" width="16.16" height="1.05" fill="#f6a06a"/>
<rect x="108.67" y="76.00" width="16.16" height="2.05" fill="#f7d699"/>
<rect x="108.67" y="78.00" width="16.16" height="2.05" fill="#ec6a45"/>
<rect x="108.67" y="80.00" width="16.16" height="3.05" fill="#f6a06a"/>
<rect x="108.67" y="83.00" width="16.16" height="1.05" fill="#ece6cf"/>
<rect x="108.67" y="84.00" width="16.16" height="1.05" fill="#ec6a45"/>
<rect x="108.67" y="85.00" width="16.16" height="2.05" fill="#f7d699"/>
<rect x="108.67" y="87.00" width="16.16" height="1.05" fill="#f6a06a"/>
<rect x="108.67" y="88.00" width="16.16" height="1.05" fill="#d9382c"/>
<rect x="108.67" y="89.00" width="16.16" height="1.05" fill="#ec6a45"/>
<rect x="108.67" y="90.00" width="16.16" height="2.05" fill="#f6a06a"/>
<rect x="108.67" y="92.00" width="16.16" height="1.05" fill="#d9382c"/>
<rect x="108.67" y="93.00" width="16.16" height="1.05" fill="#a2c2dc"/>
<rect x="108.67" y="94.00" width="16.16" height="3.05" fill="#d9382c"/>
<rect x="108.67" y="97.00" width="16.16" height="1.05" fill="#ec6a45"/>
<rect x="108.67" y="98.00" width="16.16" height="2.05" fill="#4a7bbc"/>
<rect x="108.67" y="100.00" width="16.16" height="1.05" fill="#a2c2dc"/>
<rect x="108.67" y="101.00" width="16.16" height="1.05" fill="#6c9ccc"/>
<rect x="108.67" y="102.00" width="16.16" height="1.05" fill="#ece6cf"/>
<rect x="108.67" y="103.00" width="16.16" height="1.05" fill="#ec6a45"/>
<rect x="108.67" y="104.00" width="16.16" height="1.05" fill="#a2c2dc"/>
<rect x="108.67" y="105.00" width="16.16" height="1.05" fill="#4a7bbc"/>
<rect x="108.67" y="106.00" width="16.16" height="1.05" fill="#6c9ccc"/>
<rect x="108.67" y="107.00" width="16.16" height="1.05" fill="#ece6cf"/>
<rect x="108.67" y="108.00" width="16.16" height="1.05" fill="#f7d699"/>
<rect x="108.67" y="109.00" width="16.16" height="1.05" fill="#a2c2dc"/>
<rect x="108.67" y="110.00" width="16.16" height="2.05" fill="#f6a06a"/>
<rect x="108.67" y="112.00" width="16.16" height="1.05" fill="#a2c2dc"/>
<rect x="108.67" y="113.00" width="16.16" height="1.05" fill="#f6a06a"/>
<rect x="108.67" y="114.00" width="16.16" height="1.05" fill="#6c9ccc"/>
<rect x="108.67" y="115.00" width="16.16" height="1.05" fill="#a2c2dc"/>
<rect x="108.67" y="116.00" width="16.16" height="1.05" fill="#4a7bbc"/>
<rect x="108.67" y="117.00" width="16.16" height="1.05" fill="#ece6cf"/>
<rect x="108.67" y="118.00" width="16.16" height="1.05" fill="#6c9ccc"/>
<rect x="108.67" y="119.00" width="16.16" height="1.05" fill="#ec6a45"/>
<rect x="108.67" y="120.00" width="16.16" height="1.05" fill="#ece6cf"/>
<rect x="108.67" y="121.00" width="16.16" height="1.05" fill="#a2c2dc"/>
<rect x="108.67" y="122.00" width="16.16" height="1.05" fill="#ece6cf"/>
<rect x="108.67" y="123.00" width="16.16" height="1.05" fill="#d9382c"/>
<rect x="108.67" y="124.00" width="16.16" height="1.05" fill="#a2c2dc"/>
<rect x="108.67" y="125.00" width="16.16" height="2.05" fill="#f7d699"/>
<rect x="108.67" y="127.00" width="16.16" height="1.05" fill="#a2c2dc"/>
<rect x="108.67" y="128.00" width="16.16" height="2.05" fill="#ec6a45"/>
<rect x="108.67" y="130.00" width="16.16" height="1.05" fill="#d9382c"/>
<rect x="108.67" y="131.00" width="16.16" height="1.05" fill="#f6a06a"/>
<rect x="108.67" y="132.00" width="16.16" height="1.05" fill="#f7d699"/>
<rect x="108.67" y="133.00" width="16.16" height="2.05" fill="#ec6a45"/>
<rect x="108.67" y="135.00" width="16.16" height="1.05" fill="#f6a06a"/>
<rect x="108.67" y="136.00" width="16.16" height="2.05" fill="#ec6a45"/>
<rect x="108.67" y="138.00" width="16.16" height="4.05" fill="#d9382c"/>
<rect x="108.67" y="142.00" width="16.16" height="1.05" fill="#ec6a45"/>
<rect x="108.67" y="143.00" width="16.16" height="1.05" fill="#a2c2dc"/>
<rect x="108.67" y="144.00" width="16.16" height="1.05" fill="#f6a06a"/>
<rect x="108.67" y="145.00" width="16.16" height="1.05" fill="#d9382c"/>
<rect x="108.67" y="146.00" width="16.16" height="1.05" fill="#ec6a45"/>
<rect x="108.67" y="147.00" width="16.16" height="1.05" fill="#f7d699"/>
<rect x="108.67" y="148.00" width="16.16" height="1.05" fill="#f6a06a"/>
<rect x="108.67" y="149.00" width="16.16" height="1.05" fill="#ec6a45"/>
<rect x="108.67" y="150.00" width="16.16" height="1.05" fill="#f7d699"/>
<rect x="108.67" y="151.00" width="16.16" height="1.05" fill="#ec6a45"/>
<rect x="108.67" y="152.00" width="16.16" height="2.05" fill="#6c9ccc"/>
<rect x="108.67" y="154.00" width="16.16" height="1.05" fill="#ec6a45"/>
<rect x="108.67" y="155.00" width="16.16" height="1.05" fill="#ece6cf"/>
<rect x="108.67" y="156.00" width="16.16" height="1.05" fill="#ec6a45"/>
<rect x="108.67" y="157.00" width="16.16" height="1.05" fill="#a2c2dc"/>
<rect x="108.67" y="158.00" width="16.16" height="1.05" fill="#f7d699"/>
<rect x="108.67" y="159.00" width="16.16" height="1.05" fill="#6c9ccc"/>
<rect x="108.67" y="160.00" width="16.16" height="1.05" fill="#ec6a45"/>
<rect x="108.67" y="161.00" width="16.16" height="3.05" fill="#d9382c"/>
<rect x="108.67" y="164.00" width="16.16" height="1.05" fill="#ec6a45"/>
<rect x="108.67" y="165.00" width="16.16" height="2.05" fill="#f6a06a"/>
<rect x="108.67" y="167.00" width="16.16" height="1.05" fill="#f7d699"/>
<rect x="108.67" y="168.00" width="16.16" height="1.05" fill="#ec6a45"/>
<rect x="108.67" y="169.00" width="16.16" height="1.05" fill="#f7d699"/>
<rect x="108.67" y="170.00" width="16.16" height="4.05" fill="#f6a06a"/>
<rect x="108.67" y="174.00" width="16.16" height="3.05" fill="#6c9ccc"/>
<rect x="108.67" y="177.00" width="16.16" height="3.05" fill="#ec6a45"/>
<rect x="124.78" y="27.00" width="16.16" height="1.05" fill="#ec6a45"/>
<rect x="124.78" y="28.00" width="16.16" height="1.05" fill="#a2c2dc"/>
<rect x="124.78" y="29.00" width="16.16" height="1.05" fill="#d9382c"/>
<rect x="124.78" y="30.00" width="16.16" height="1.05" fill="#a2c2dc"/>
<rect x="124.78" y="31.00" width="16.16" height="1.05" fill="#ece6cf"/>
<rect x="124.78" y="32.00" width="16.16" height="4.05" fill="#6c9ccc"/>
<rect x="124.78" y="36.00" width="16.16" height="1.05" fill="#f7d699"/>
<rect x="124.78" y="37.00" width="16.16" height="1.05" fill="#ec6a45"/>
<rect x="124.78" y="38.00" width="16.16" height="1.05" fill="#a2c2dc"/>
<rect x="124.78" y="39.00" width="16.16" height="3.05" fill="#6c9ccc"/>
<rect x="124.78" y="42.00" width="16.16" height="2.05" fill="#4a7bbc"/>
<rect x="124.78" y="44.00" width="16.16" height="2.05" fill="#a2c2dc"/>
<rect x="124.78" y="46.00" width="16.16" height="1.05" fill="#4a7bbc"/>
<rect x="124.78" y="47.00" width="16.16" height="1.05" fill="#a2c2dc"/>
<rect x="124.78" y="48.00" width="16.16" height="1.05" fill="#ec6a45"/>
<rect x="124.78" y="49.00" width="16.16" height="1.05" fill="#a2c2dc"/>
<rect x="124.78" y="50.00" width="16.16" height="1.05" fill="#ec6a45"/>
<rect x="124.78" y="51.00" width="16.16" height="2.05" fill="#ece6cf"/>
<rect x="124.78" y="53.00" width="16.16" height="2.05" fill="#a2c2dc"/>
<rect x="124.78" y="55.00" width="16.16" height="2.05" fill="#6c9ccc"/>
<rect x="124.78" y="57.00" width="16.16" height="12.05" fill="#4a7bbc"/>
<rect x="124.78" y="69.00" width="16.16" height="5.05" fill="#d9382c"/>
<rect x="124.78" y="74.00" width="16.16" height="1.05" fill="#a2c2dc"/>
<rect x="124.78" y="75.00" width="16.16" height="3.05" fill="#f6a06a"/>
<rect x="124.78" y="78.00" width="16.16" height="2.05" fill="#f7d699"/>
<rect x="124.78" y="80.00" width="16.16" height="1.05" fill="#ec6a45"/>
<rect x="124.78" y="81.00" width="16.16" height="1.05" fill="#f6a06a"/>
<rect x="124.78" y="82.00" width="16.16" height="1.05" fill="#f7d699"/>
<rect x="124.78" y="83.00" width="16.16" height="2.05" fill="#ece6cf"/>
<rect x="124.78" y="85.00" width="16.16" height="1.05" fill="#ec6a45"/>
<rect x="124.78" y="86.00" width="16.16" height="1.05" fill="#a2c2dc"/>
<rect x="124.78" y="87.00" width="16.16" height="1.05" fill="#6c9ccc"/>
<rect x="124.78" y="88.00" width="16.16" height="1.05" fill="#ec6a45"/>
<rect x="124.78" y="89.00" width="16.16" height="1.05" fill="#f6a06a"/>
<rect x="124.78" y="90.00" width="16.16" height="1.05" fill="#a2c2dc"/>
<rect x="124.78" y="91.00" width="16.16" height="1.05" fill="#6c9ccc"/>
<rect x="124.78" y="92.00" width="16.16" height="1.05" fill="#a2c2dc"/>
<rect x="124.78" y="93.00" width="16.16" height="1.05" fill="#ece6cf"/>
<rect x="124.78" y="94.00" width="16.16" height="1.05" fill="#a2c2dc"/>
<rect x="124.78" y="95.00" width="16.16" height="1.05" fill="#6c9ccc"/>
<rect x="124.78" y="96.00" width="16.16" height="1.05" fill="#ec6a45"/>
<rect x="124.78" y="97.00" width="16.16" height="1.05" fill="#a2c2dc"/>
<rect x="124.78" y="98.00" width="16.16" height="2.05" fill="#4a7bbc"/>
<rect x="124.78" y="100.00" width="16.16" height="2.05" fill="#a2c2dc"/>
<rect x="124.78" y="102.00" width="16.16" height="1.05" fill="#ec6a45"/>
<rect x="124.78" y="103.00" width="16.16" height="1.05" fill="#a2c2dc"/>
<rect x="124.78" y="104.00" width="16.16" height="2.05" fill="#6c9ccc"/>
<rect x="124.78" y="106.00" width="16.16" height="1.05" fill="#a2c2dc"/>
<rect x="124.78" y="107.00" width="16.16" height="1.05" fill="#6c9ccc"/>
<rect x="124.78" y="108.00" width="16.16" height="2.05" fill="#a2c2dc"/>
<rect x="124.78" y="110.00" width="16.16" height="1.05" fill="#f6a06a"/>
<rect x="124.78" y="111.00" width="16.16" height="2.05" fill="#f7d699"/>
<rect x="124.78" y="113.00" width="16.16" height="1.05" fill="#a2c2dc"/>
<rect x="124.78" y="114.00" width="16.16" height="1.05" fill="#f7d699"/>
<rect x="124.78" y="115.00" width="16.16" height="2.05" fill="#a2c2dc"/>
<rect x="124.78" y="117.00" width="16.16" height="1.05" fill="#4a7bbc"/>
<rect x="124.78" y="118.00" width="16.16" height="1.05" fill="#a2c2dc"/>
<rect x="124.78" y="119.00" width="16.16" height="1.05" fill="#6c9ccc"/>
<rect x="124.78" y="120.00" width="16.16" height="2.05" fill="#a2c2dc"/>
<rect x="124.78" y="122.00" width="16.16" height="1.05" fill="#f7d699"/>
<rect x="124.78" y="123.00" width="16.16" height="2.05" fill="#a2c2dc"/>
<rect x="124.78" y="125.00" width="16.16" height="2.05" fill="#ece6cf"/>
<rect x="124.78" y="127.00" width="16.16" height="1.05" fill="#6c9ccc"/>
<rect x="124.78" y="128.00" width="16.16" height="1.05" fill="#f7d699"/>
<rect x="124.78" y="129.00" width="16.16" height="2.05" fill="#a2c2dc"/>
<rect x="124.78" y="131.00" width="16.16" height="1.05" fill="#ec6a45"/>
<rect x="124.78" y="132.00" width="16.16" height="2.05" fill="#f7d699"/>
<rect x="124.78" y="134.00" width="16.16" height="1.05" fill="#ec6a45"/>
<rect x="124.78" y="135.00" width="16.16" height="1.05" fill="#f6a06a"/>
<rect x="124.78" y="136.00" width="16.16" height="6.05" fill="#d9382c"/>
<rect x="124.78" y="142.00" width="16.16" height="1.05" fill="#ec6a45"/>
<rect x="124.78" y="143.00" width="16.16" height="1.05" fill="#d9382c"/>
<rect x="124.78" y="144.00" width="16.16" height="1.05" fill="#ece6cf"/>
<rect x="124.78" y="145.00" width="16.16" height="2.05" fill="#d9382c"/>
<rect x="124.78" y="147.00" width="16.16" height="1.05" fill="#ec6a45"/>
<rect x="124.78" y="148.00" width="16.16" height="3.05" fill="#a2c2dc"/>
<rect x="124.78" y="151.00" width="16.16" height="1.05" fill="#f6a06a"/>
<rect x="124.78" y="152.00" width="16.16" height="1.05" fill="#f7d699"/>
<rect x="124.78" y="153.00" width="16.16" height="2.05" fill="#ec6a45"/>
<rect x="124.78" y="155.00" width="16.16" height="1.05" fill="#f7d699"/>
<rect x="124.78" y="156.00" width="16.16" height="1.05" fill="#6c9ccc"/>
<rect x="124.78" y="157.00" width="16.16" height="1.05" fill="#a2c2dc"/>
<rect x="124.78" y="158.00" width="16.16" height="1.05" fill="#ec6a45"/>
<rect x="124.78" y="159.00" width="16.16" height="1.05" fill="#f6a06a"/>
<rect x="124.78" y="160.00" width="16.16" height="1.05" fill="#ec6a45"/>
<rect x="124.78" y="161.00" width="16.16" height="2.05" fill="#d9382c"/>
<rect x="124.78" y="163.00" width="16.16" height="2.05" fill="#f7d699"/>
<rect x="124.78" y="165.00" width="16.16" height="1.05" fill="#ec6a45"/>
<rect x="124.78" y="166.00" width="16.16" height="1.05" fill="#4a7bbc"/>
<rect x="124.78" y="167.00" width="16.16" height="1.05" fill="#a2c2dc"/>
<rect x="124.78" y="168.00" width="16.16" height="1.05" fill="#6c9ccc"/>
<rect x="124.78" y="169.00" width="16.16" height="1.05" fill="#ec6a45"/>
<rect x="124.78" y="170.00" width="16.16" height="1.05" fill="#f6a06a"/>
<rect x="124.78" y="171.00" width="16.16" height="1.05" fill="#d9382c"/>
<rect x="124.78" y="172.00" width="16.16" height="1.05" fill="#a2c2dc"/>
<rect x="124.78" y="173.00" width="16.16" height="2.05" fill="#ec6a45"/>
<rect x="124.78" y="175.00" width="16.16" height="2.05" fill="#f6a06a"/>
<rect x="124.78" y="177.00" width="16.16" height="3.05" fill="#ec6a45"/>
<rect x="140.89" y="27.00" width="16.16" height="1.05" fill="#a2c2dc"/>
<rect x="140.89" y="28.00" width="16.16" height="1.05" fill="#d9382c"/>
<rect x="140.89" y="29.00" width="16.16" height="1.05" fill="#a2c2dc"/>
<rect x="140.89" y="30.00" width="16.16" height="2.05" fill="#f7d699"/>
<rect x="140.89" y="32.00" width="16.16" height="2.05" fill="#6c9ccc"/>
<rect x="140.89" y="34.00" width="16.16" height="1.05" fill="#a2c2dc"/>
<rect x="140.89" y="35.00" width="16.16" height="2.05" fill="#d9382c"/>
<rect x="140.89" y="37.00" width="16.16" height="1.05" fill="#f7d699"/>
<rect x="140.89" y="38.00" width="16.16" height="9.05" fill="#d9382c"/>
<rect x="140.89" y="47.00" width="16.16" height="1.05" fill="#f6a06a"/>
<rect x="140.89" y="48.00" width="16.16" height="2.05" fill="#a2c2dc"/>
<rect x="140.89" y="50.00" width="16.16" height="2.05" fill="#6c9ccc"/>
<rect x="140.89" y="52.00" width="16.16" height="1.05" fill="#ece6cf"/>
<rect x="140.89" y="53.00" width="16.16" height="1.05" fill="#6c9ccc"/>
<rect x="140.89" y="54.00" width="16.16" height="1.05" fill="#f7d699"/>
<rect x="140.89" y="55.00" width="16.16" height="1.05" fill="#a2c2dc"/>
<rect x="140.89" y="56.00" width="16.16" height="2.05" fill="#ece6cf"/>
<rect x="140.89" y="58.00" width="16.16" height="3.05" fill="#4a7bbc"/>
<rect x="140.89" y="61.00" width="16.16" height="2.05" fill="#6c9ccc"/>
<rect x="140.89" y="63.00" width="16.16" height="2.05" fill="#a2c2dc"/>
<rect x="140.89" y="65.00" width="16.16" height="3.05" fill="#6c9ccc"/>
<rect x="140.89" y="68.00" width="16.16" height="2.05" fill="#4a7bbc"/>
<rect x="140.89" y="70.00" width="16.16" height="2.05" fill="#a2c2dc"/>
<rect x="140.89" y="72.00" width="16.16" height="2.05" fill="#4a7bbc"/>
<rect x="140.89" y="74.00" width="16.16" height="1.05" fill="#f6a06a"/>
<rect x="140.89" y="75.00" width="16.16" height="3.05" fill="#ec6a45"/>
<rect x="140.89" y="78.00" width="16.16" height="3.05" fill="#f6a06a"/>
<rect x="140.89" y="81.00" width="16.16" height="1.05" fill="#a2c2dc"/>
<rect x="140.89" y="82.00" width="16.16" height="1.05" fill="#f7d699"/>
<rect x="140.89" y="83.00" width="16.16" height="1.05" fill="#ec6a45"/>
<rect x="140.89" y="84.00" width="16.16" height="1.05" fill="#ece6cf"/>
<rect x="140.89" y="85.00" width="16.16" height="1.05" fill="#f7d699"/>
<rect x="140.89" y="86.00" width="16.16" height="2.05" fill="#a2c2dc"/>
<rect x="140.89" y="88.00" width="16.16" height="2.05" fill="#4a7bbc"/>
<rect x="140.89" y="90.00" width="16.16" height="1.05" fill="#6c9ccc"/>
<rect x="140.89" y="91.00" width="16.16" height="1.05" fill="#f6a06a"/>
<rect x="140.89" y="92.00" width="16.16" height="1.05" fill="#a2c2dc"/>
<rect x="140.89" y="93.00" width="16.16" height="1.05" fill="#ec6a45"/>
<rect x="140.89" y="94.00" width="16.16" height="2.05" fill="#6c9ccc"/>
<rect x="140.89" y="96.00" width="16.16" height="2.05" fill="#4a7bbc"/>
<rect x="140.89" y="98.00" width="16.16" height="1.05" fill="#a2c2dc"/>
<rect x="140.89" y="99.00" width="16.16" height="3.05" fill="#6c9ccc"/>
<rect x="140.89" y="102.00" width="16.16" height="1.05" fill="#a2c2dc"/>
<rect x="140.89" y="103.00" width="16.16" height="1.05" fill="#ece6cf"/>
<rect x="140.89" y="104.00" width="16.16" height="6.05" fill="#4a7bbc"/>
<rect x="140.89" y="110.00" width="16.16" height="1.05" fill="#a2c2dc"/>
<rect x="140.89" y="111.00" width="16.16" height="1.05" fill="#f6a06a"/>
<rect x="140.89" y="112.00" width="16.16" height="1.05" fill="#d9382c"/>
<rect x="140.89" y="113.00" width="16.16" height="1.05" fill="#ec6a45"/>
<rect x="140.89" y="114.00" width="16.16" height="1.05" fill="#f6a06a"/>
<rect x="140.89" y="115.00" width="16.16" height="2.05" fill="#6c9ccc"/>
<rect x="140.89" y="117.00" width="16.16" height="1.05" fill="#a2c2dc"/>
<rect x="140.89" y="118.00" width="16.16" height="2.05" fill="#4a7bbc"/>
<rect x="140.89" y="120.00" width="16.16" height="1.05" fill="#a2c2dc"/>
<rect x="140.89" y="121.00" width="16.16" height="1.05" fill="#6c9ccc"/>
<rect x="140.89" y="122.00" width="16.16" height="2.05" fill="#a2c2dc"/>
<rect x="140.89" y="124.00" width="16.16" height="1.05" fill="#f7d699"/>
<rect x="140.89" y="125.00" width="16.16" height="1.05" fill="#6c9ccc"/>
<rect x="140.89" y="126.00" width="16.16" height="1.05" fill="#f6a06a"/>
<rect x="140.89" y="127.00" width="16.16" height="1.05" fill="#a2c2dc"/>
<rect x="140.89" y="128.00" width="16.16" height="1.05" fill="#6c9ccc"/>
<rect x="140.89" y="129.00" width="16.16" height="1.05" fill="#a2c2dc"/>
<rect x="140.89" y="130.00" width="16.16" height="1.05" fill="#ec6a45"/>
<rect x="140.89" y="131.00" width="16.16" height="1.05" fill="#ece6cf"/>
<rect x="140.89" y="132.00" width="16.16" height="1.05" fill="#a2c2dc"/>
<rect x="140.89" y="133.00" width="16.16" height="2.05" fill="#f7d699"/>
<rect x="140.89" y="135.00" width="16.16" height="1.05" fill="#ec6a45"/>
<rect x="140.89" y="136.00" width="16.16" height="5.05" fill="#d9382c"/>
<rect x="140.89" y="141.00" width="16.16" height="1.05" fill="#ec6a45"/>
<rect x="140.89" y="142.00" width="16.16" height="2.05" fill="#d9382c"/>
<rect x="140.89" y="144.00" width="16.16" height="2.05" fill="#ec6a45"/>
<rect x="140.89" y="146.00" width="16.16" height="1.05" fill="#a2c2dc"/>
<rect x="140.89" y="147.00" width="16.16" height="1.05" fill="#6c9ccc"/>
<rect x="140.89" y="148.00" width="16.16" height="3.05" fill="#a2c2dc"/>
<rect x="140.89" y="151.00" width="16.16" height="1.05" fill="#f6a06a"/>
<rect x="140.89" y="152.00" width="16.16" height="2.05" fill="#ec6a45"/>
<rect x="140.89" y="154.00" width="16.16" height="1.05" fill="#f6a06a"/>
<rect x="140.89" y="155.00" width="16.16" height="1.05" fill="#ec6a45"/>
<rect x="140.89" y="156.00" width="16.16" height="1.05" fill="#f6a06a"/>
<rect x="140.89" y="157.00" width="16.16" height="1.05" fill="#ec6a45"/>
<rect x="140.89" y="158.00" width="16.16" height="2.05" fill="#a2c2dc"/>
<rect x="140.89" y="160.00" width="16.16" height="6.05" fill="#4a7bbc"/>
<rect x="140.89" y="166.00" width="16.16" height="1.05" fill="#ec6a45"/>
<rect x="140.89" y="167.00" width="16.16" height="1.05" fill="#a2c2dc"/>
<rect x="140.89" y="168.00" width="16.16" height="2.05" fill="#6c9ccc"/>
<rect x="140.89" y="170.00" width="16.16" height="1.05" fill="#f6a06a"/>
<rect x="140.89" y="171.00" width="16.16" height="1.05" fill="#ec6a45"/>
<rect x="140.89" y="172.00" width="16.16" height="1.05" fill="#f6a06a"/>
<rect x="140.89" y="173.00" width="16.16" height="1.05" fill="#a2c2dc"/>
<rect x="140.89" y="174.00" width="16.16" height="1.05" fill="#ec6a45"/>
<rect x="140.89" y="175.00" width="16.16" height="2.05" fill="#f6a06a"/>
<rect x="140.89" y="177.00" width="16.16" height="3.05" fill="#ec6a45"/>
</g>
<g transform="translate(23.96 185.4) rotate(-45) scale(1 1.12)"><text x="0" y="0" font-size="6.8" fill="#333" stroke="#333" stroke-width="0.08" text-anchor="end">BS</text></g>
<g transform="translate(40.07 185.4) rotate(-45) scale(1 1.12)"><text x="0" y="0" font-size="6.8" fill="#333" stroke="#333" stroke-width="0.08" text-anchor="end">BS12h</text></g>
<g transform="translate(56.18 185.4) rotate(-45) scale(1 1.12)"><text x="0" y="0" font-size="6.8" fill="#333" stroke="#333" stroke-width="0.08" text-anchor="end">BS24h</text></g>
<g transform="translate(72.29 185.4) rotate(-45) scale(1 1.12)"><text x="0" y="0" font-size="6.8" fill="#333" stroke="#333" stroke-width="0.08" text-anchor="end">Myc</text></g>
<g transform="translate(88.40 185.4) rotate(-45) scale(1 1.12)"><text x="0" y="0" font-size="6.8" fill="#333" stroke="#333" stroke-width="0.08" text-anchor="end">Oidia</text></g>
<g transform="translate(104.51 185.4) rotate(-45) scale(1 1.12)"><text x="0" y="0" font-size="6.8" fill="#333" stroke="#333" stroke-width="0.08" text-anchor="end">Scl</text></g>
<g transform="translate(120.62 185.4) rotate(-45) scale(1 1.12)"><text x="0" y="0" font-size="6.8" fill="#333" stroke="#333" stroke-width="0.08" text-anchor="end">Knot</text></g>
<g transform="translate(136.73 185.4) rotate(-45) scale(1 1.12)"><text x="0" y="0" font-size="6.8" fill="#333" stroke="#333" stroke-width="0.08" text-anchor="end">Pri</text></g>
<g transform="translate(152.84 185.4) rotate(-45) scale(1 1.12)"><text x="0" y="0" font-size="6.8" fill="#333" stroke="#333" stroke-width="0.08" text-anchor="end">YFB</text></g>
<text x="160.00" y="119.50" font-size="10" text-anchor="start" fill="#000" stroke="#000" stroke-width="0.156" font-weight="bold" >PSI</text>
<rect x="161" y="129" width="3.3" height="52" fill="url(#psi)"/>
<text x="165.50" y="131.60" font-size="8" text-anchor="start" fill="#333" stroke="#333" stroke-width="0.124" font-weight="normal" >1</text>
<text x="165.50" y="142.00" font-size="8" text-anchor="start" fill="#333" stroke="#333" stroke-width="0.124" font-weight="normal" >0.8</text>
<text x="165.50" y="152.40" font-size="8" text-anchor="start" fill="#333" stroke="#333" stroke-width="0.124" font-weight="normal" >0.6</text>
<text x="165.50" y="162.80" font-size="8" text-anchor="start" fill="#333" stroke="#333" stroke-width="0.124" font-weight="normal" >0.4</text>
<text x="165.50" y="173.20" font-size="8" text-anchor="start" fill="#333" stroke="#333" stroke-width="0.124" font-weight="normal" >0.2</text>
<text x="165.50" y="183.60" font-size="8" text-anchor="start" fill="#333" stroke="#333" stroke-width="0.124" font-weight="normal" >0</text>
<ellipse cx="89.70" cy="281.27" rx="55.59" ry="28.26" transform="rotate(-90.06 89.70 281.27)" fill="rgb(113,191,221)" fill-opacity="0.5" stroke="none"/>
<ellipse cx="79.97" cy="296.35" rx="55.59" ry="28.26" transform="rotate(197.94 79.97 296.35)" fill="rgb(223,153,231)" fill-opacity="0.5" stroke="none"/>
<ellipse cx="108.03" cy="303.78" rx="55.59" ry="28.26" transform="rotate(53.94 108.03 303.78)" fill="rgb(167,167,167)" fill-opacity="0.5" stroke="none"/>
<ellipse cx="91.30" cy="310.26" rx="55.59" ry="28.26" transform="rotate(125.94 91.30 310.26)" fill="rgb(241,197,141)" fill-opacity="0.5" stroke="none"/>
<ellipse cx="107.05" cy="285.87" rx="55.59" ry="28.26" transform="rotate(-18.06 107.05 285.87)" fill="rgb(243,159,69)" fill-opacity="0.5" stroke="none"/>
<ellipse cx="89.70" cy="281.27" rx="55.59" ry="28.26" transform="rotate(-90.06 89.70 281.27)" fill="none" stroke="#2a2a2a" stroke-width="1.05"/>
<ellipse cx="107.05" cy="285.87" rx="55.59" ry="28.26" transform="rotate(-18.06 107.05 285.87)" fill="none" stroke="#2a2a2a" stroke-width="1.05"/>
<ellipse cx="108.03" cy="303.78" rx="55.59" ry="28.26" transform="rotate(53.94 108.03 303.78)" fill="none" stroke="#2a2a2a" stroke-width="1.05"/>
<ellipse cx="91.30" cy="310.26" rx="55.59" ry="28.26" transform="rotate(125.94 91.30 310.26)" fill="none" stroke="#2a2a2a" stroke-width="1.05"/>
<ellipse cx="79.97" cy="296.35" rx="55.59" ry="28.26" transform="rotate(197.94 79.97 296.35)" fill="none" stroke="#2a2a2a" stroke-width="1.05"/>
<text x="89.40" y="245.40" font-size="5.7" text-anchor="middle" fill="#303030" stroke="#303030" stroke-width="0.100" font-weight="normal" >158</text>
<text x="82.50" y="262.10" font-size="5.7" text-anchor="middle" fill="#303030" stroke="#303030" stroke-width="0.100" font-weight="normal" >49</text>
<text x="92.70" y="266.10" font-size="5.7" text-anchor="middle" fill="#303030" stroke="#303030" stroke-width="0.100" font-weight="normal" >87</text>
<text x="110.30" y="261.30" font-size="5.7" text-anchor="middle" fill="#303030" stroke="#303030" stroke-width="0.100" font-weight="normal" >401</text>
<text x="113.30" y="266.50" font-size="5.7" text-anchor="middle" fill="#303030" stroke="#303030" stroke-width="0.100" font-weight="normal" >70</text>
<text x="65.00" y="271.70" font-size="5.7" text-anchor="middle" fill="#303030" stroke="#303030" stroke-width="0.100" font-weight="normal" >0</text>
<text x="73.90" y="269.10" font-size="5.7" text-anchor="middle" fill="#303030" stroke="#303030" stroke-width="0.100" font-weight="normal" >0</text>
<text x="75.00" y="277.70" font-size="5.7" text-anchor="middle" fill="#303030" stroke="#303030" stroke-width="0.100" font-weight="normal" >2</text>
<text x="107.20" y="274.10" font-size="5.7" text-anchor="middle" fill="#303030" stroke="#303030" stroke-width="0.100" font-weight="normal" >31</text>
<text x="123.10" y="274.70" font-size="5.7" text-anchor="middle" fill="#303030" stroke="#303030" stroke-width="0.100" font-weight="normal" >27</text>
<text x="142.70" y="276.20" font-size="5.7" text-anchor="middle" fill="#303030" stroke="#303030" stroke-width="0.100" font-weight="normal" >557</text>
<text x="43.90" y="285.90" font-size="5.7" text-anchor="middle" fill="#303030" stroke="#303030" stroke-width="0.100" font-weight="normal" >3</text>
<text x="65.00" y="289.10" font-size="5.7" text-anchor="middle" fill="#303030" stroke="#303030" stroke-width="0.100" font-weight="normal" >0</text>
<text x="94.60" y="298.30" font-size="5.7" text-anchor="middle" fill="#303030" stroke="#303030" stroke-width="0.100" font-weight="normal" >2</text>
<text x="123.70" y="288.10" font-size="5.7" text-anchor="middle" fill="#303030" stroke="#303030" stroke-width="0.100" font-weight="normal" >29</text>
<text x="57.20" y="300.30" font-size="5.7" text-anchor="middle" fill="#303030" stroke="#303030" stroke-width="0.100" font-weight="normal" >3</text>
<text x="61.20" y="309.90" font-size="5.7" text-anchor="middle" fill="#303030" stroke="#303030" stroke-width="0.100" font-weight="normal" >0</text>
<text x="69.40" y="308.80" font-size="5.7" text-anchor="middle" fill="#303030" stroke="#303030" stroke-width="0.100" font-weight="normal" >3</text>
<text x="120.70" y="304.90" font-size="5.7" text-anchor="middle" fill="#303030" stroke="#303030" stroke-width="0.100" font-weight="normal" >2</text>
<text x="134.70" y="302.20" font-size="5.7" text-anchor="middle" fill="#303030" stroke="#303030" stroke-width="0.100" font-weight="normal" >143</text>
<text x="128.00" y="308.30" font-size="5.7" text-anchor="middle" fill="#303030" stroke="#303030" stroke-width="0.100" font-weight="normal" >1</text>
<text x="61.70" y="318.80" font-size="5.7" text-anchor="middle" fill="#303030" stroke="#303030" stroke-width="0.100" font-weight="normal" >1</text>
<text x="77.20" y="323.80" font-size="5.7" text-anchor="middle" fill="#303030" stroke="#303030" stroke-width="0.100" font-weight="normal" >0</text>
<text x="97.20" y="325.70" font-size="5.7" text-anchor="middle" fill="#303030" stroke="#303030" stroke-width="0.100" font-weight="normal" >0</text>
<text x="113.00" y="323.80" font-size="5.7" text-anchor="middle" fill="#303030" stroke="#303030" stroke-width="0.100" font-weight="normal" >8</text>
<text x="125.00" y="319.90" font-size="5.7" text-anchor="middle" fill="#303030" stroke="#303030" stroke-width="0.100" font-weight="normal" >3</text>
<text x="85.00" y="334.10" font-size="5.7" text-anchor="middle" fill="#303030" stroke="#303030" stroke-width="0.100" font-weight="normal" >12</text>
<text x="96.50" y="335.00" font-size="5.7" text-anchor="middle" fill="#303030" stroke="#303030" stroke-width="0.100" font-weight="normal" >31</text>
<text x="102.80" y="336.50" font-size="5.7" text-anchor="middle" fill="#303030" stroke="#303030" stroke-width="0.100" font-weight="normal" >42</text>
<text x="70.60" y="347.00" font-size="5.7" text-anchor="middle" fill="#303030" stroke="#303030" stroke-width="0.100" font-weight="normal" >45</text>
<text x="129.40" y="338.30" font-size="5.7" text-anchor="middle" fill="#303030" stroke="#303030" stroke-width="0.100" font-weight="normal" >267</text>
<text x="89.00" y="211.00" font-size="9.8" text-anchor="middle" fill="#1e1e1e" stroke="#1e1e1e" stroke-width="0.152" font-weight="normal" >Spore</text>
<text x="89.00" y="222.00" font-size="9.8" text-anchor="middle" fill="#1e1e1e" stroke="#1e1e1e" stroke-width="0.152" font-weight="normal" >germination</text>
<text x="39.20" y="259.00" font-size="9.8" text-anchor="middle" fill="#1e1e1e" stroke="#1e1e1e" stroke-width="0.152" font-weight="normal" >Oidiation</text>
<text x="147.90" y="249.20" font-size="9.8" text-anchor="middle" fill="#1e1e1e" stroke="#1e1e1e" stroke-width="0.152" font-weight="normal" >Sporulation</text>
<text x="32.30" y="356.90" font-size="9.8" text-anchor="middle" fill="#1e1e1e" stroke="#1e1e1e" stroke-width="0.152" font-weight="normal" >Sclerotia</text>
<text x="32.50" y="368.40" font-size="9.8" text-anchor="middle" fill="#1e1e1e" stroke="#1e1e1e" stroke-width="0.152" font-weight="normal" >formation</text>
<text x="151.10" y="364.70" font-size="9.8" text-anchor="middle" fill="#1e1e1e" stroke="#1e1e1e" stroke-width="0.152" font-weight="normal" >Fruiting</text>
<rect x="53.20" y="499.14" width="12.2" height="0.56" fill="#fccde5"/>
<rect x="53.20" y="456.21" width="12.2" height="42.93" fill="#b3de69"/>
<rect x="53.20" y="452.31" width="12.2" height="3.90" fill="#80b1d3"/>
<rect x="53.20" y="450.08" width="12.2" height="2.23" fill="#fb8072"/>
<rect x="53.20" y="427.23" width="12.2" height="22.86" fill="#ffffb3"/>
<rect x="53.20" y="388.20" width="12.2" height="39.02" fill="#8dd3c7"/>
<rect x="73.55" y="462.90" width="12.2" height="36.80" fill="#b3de69"/>
<rect x="73.55" y="425.55" width="12.2" height="37.35" fill="#80b1d3"/>
<rect x="73.55" y="388.20" width="12.2" height="37.35" fill="#8dd3c7"/>
<rect x="93.90" y="475.17" width="12.2" height="24.53" fill="#b3de69"/>
<rect x="93.90" y="467.37" width="12.2" height="7.80" fill="#80b1d3"/>
<rect x="93.90" y="466.25" width="12.2" height="1.11" fill="#fdb462"/>
<rect x="93.90" y="465.13" width="12.2" height="1.11" fill="#fb8072"/>
<rect x="93.90" y="422.76" width="12.2" height="42.37" fill="#ffffb3"/>
<rect x="93.90" y="388.20" width="12.2" height="34.56" fill="#8dd3c7"/>
<rect x="114.25" y="498.03" width="12.2" height="1.67" fill="#fccde5"/>
<rect x="114.25" y="452.31" width="12.2" height="45.71" fill="#b3de69"/>
<rect x="114.25" y="445.62" width="12.2" height="6.69" fill="#80b1d3"/>
<rect x="114.25" y="443.95" width="12.2" height="1.67" fill="#fb8072"/>
<rect x="114.25" y="417.19" width="12.2" height="26.76" fill="#ffffb3"/>
<rect x="114.25" y="388.20" width="12.2" height="28.99" fill="#8dd3c7"/>
<rect x="134.60" y="499.14" width="12.2" height="0.56" fill="#fccde5"/>
<rect x="134.60" y="456.21" width="12.2" height="42.93" fill="#b3de69"/>
<rect x="134.60" y="451.20" width="12.2" height="5.02" fill="#80b1d3"/>
<rect x="134.60" y="450.08" width="12.2" height="1.11" fill="#fb8072"/>
<rect x="134.60" y="422.76" width="12.2" height="27.32" fill="#ffffb3"/>
<rect x="134.60" y="388.20" width="12.2" height="34.56" fill="#8dd3c7"/>
<line x1="47.2" y1="382.6" x2="47.2" y2="506.2" stroke="#2a2a2a" stroke-width="1.25"/>
<line x1="46.6" y1="505.6" x2="153.4" y2="505.6" stroke="#2a2a2a" stroke-width="1.25"/>
<line x1="44.5" y1="499.70" x2="47.2" y2="499.70" stroke="#222" stroke-width="0.8"/>
<text x="43.80" y="502.80" font-size="8.7" text-anchor="end" fill="#222" stroke="#222" stroke-width="0.135" font-weight="normal" >0</text>
<line x1="44.5" y1="488.55" x2="47.2" y2="488.55" stroke="#222" stroke-width="0.8"/>
<text x="43.80" y="491.65" font-size="8.7" text-anchor="end" fill="#222" stroke="#222" stroke-width="0.135" font-weight="normal" >10</text>
<line x1="44.5" y1="477.40" x2="47.2" y2="477.40" stroke="#222" stroke-width="0.8"/>
<text x="43.80" y="480.50" font-size="8.7" text-anchor="end" fill="#222" stroke="#222" stroke-width="0.135" font-weight="normal" >20</text>
<line x1="44.5" y1="466.25" x2="47.2" y2="466.25" stroke="#222" stroke-width="0.8"/>
<text x="43.80" y="469.35" font-size="8.7" text-anchor="end" fill="#222" stroke="#222" stroke-width="0.135" font-weight="normal" >30</text>
<line x1="44.5" y1="455.10" x2="47.2" y2="455.10" stroke="#222" stroke-width="0.8"/>
<text x="43.80" y="458.20" font-size="8.7" text-anchor="end" fill="#222" stroke="#222" stroke-width="0.135" font-weight="normal" >40</text>
<line x1="44.5" y1="443.95" x2="47.2" y2="443.95" stroke="#222" stroke-width="0.8"/>
<text x="43.80" y="447.05" font-size="8.7" text-anchor="end" fill="#222" stroke="#222" stroke-width="0.135" font-weight="normal" >50</text>
<line x1="44.5" y1="432.80" x2="47.2" y2="432.80" stroke="#222" stroke-width="0.8"/>
<text x="43.80" y="435.90" font-size="8.7" text-anchor="end" fill="#222" stroke="#222" stroke-width="0.135" font-weight="normal" >60</text>
<line x1="44.5" y1="421.65" x2="47.2" y2="421.65" stroke="#222" stroke-width="0.8"/>
<text x="43.80" y="424.75" font-size="8.7" text-anchor="end" fill="#222" stroke="#222" stroke-width="0.135" font-weight="normal" >70</text>
<line x1="44.5" y1="410.50" x2="47.2" y2="410.50" stroke="#222" stroke-width="0.8"/>
<text x="43.80" y="413.60" font-size="8.7" text-anchor="end" fill="#222" stroke="#222" stroke-width="0.135" font-weight="normal" >80</text>
<line x1="44.5" y1="399.35" x2="47.2" y2="399.35" stroke="#222" stroke-width="0.8"/>
<text x="43.80" y="402.45" font-size="8.7" text-anchor="end" fill="#222" stroke="#222" stroke-width="0.135" font-weight="normal" >90</text>
<line x1="44.5" y1="388.20" x2="47.2" y2="388.20" stroke="#222" stroke-width="0.8"/>
<text x="43.80" y="391.30" font-size="8.7" text-anchor="end" fill="#222" stroke="#222" stroke-width="0.135" font-weight="normal" >100</text>
<line x1="59.30" y1="505.6" x2="59.30" y2="507.6" stroke="#222" stroke-width="0.8"/>
<line x1="79.65" y1="505.6" x2="79.65" y2="507.6" stroke="#222" stroke-width="0.8"/>
<line x1="100.00" y1="505.6" x2="100.00" y2="507.6" stroke="#222" stroke-width="0.8"/>
<line x1="120.35" y1="505.6" x2="120.35" y2="507.6" stroke="#222" stroke-width="0.8"/>
<line x1="140.70" y1="505.6" x2="140.70" y2="507.6" stroke="#222" stroke-width="0.8"/>
<text x="28.3" y="444.4" font-size="9.4" fill="#222" text-anchor="middle" transform="rotate(-90 28.3 444.4)">Percentage</text>
<g transform="translate(52.60 510.60) rotate(-45) scale(1 1.12)"><text x="0.6" y="4.8" font-size="9.4" fill="#222" stroke="#222" stroke-width="0.12" text-anchor="end">Spore</text></g>
<g transform="translate(64.80 509.80) rotate(-45) scale(1 1.12)"><text x="0.6" y="4.8" font-size="9.4" fill="#222" stroke="#222" stroke-width="0.12" text-anchor="end">germination</text></g>
<g transform="translate(81.40 510.20) rotate(-45) scale(1 1.12)"><text x="0.6" y="4.8" font-size="9.4" fill="#222" stroke="#222" stroke-width="0.12" text-anchor="end">Oidiation</text></g>
<g transform="translate(97.00 510.00) rotate(-45) scale(1 1.12)"><text x="0.6" y="4.8" font-size="9.4" fill="#222" stroke="#222" stroke-width="0.12" text-anchor="end">Sclerotia</text></g>
<g transform="translate(107.60 510.80) rotate(-45) scale(1 1.12)"><text x="0.6" y="4.8" font-size="9.4" fill="#222" stroke="#222" stroke-width="0.12" text-anchor="end">formation</text></g>
<g transform="translate(121.80 510.20) rotate(-45) scale(1 1.12)"><text x="0.6" y="4.8" font-size="9.4" fill="#222" stroke="#222" stroke-width="0.12" text-anchor="end">Fruiting</text></g>
<g transform="translate(143.00 510.20) rotate(-45) scale(1 1.12)"><text x="0.6" y="4.8" font-size="9.4" fill="#222" stroke="#222" stroke-width="0.12" text-anchor="end">Sporulation</text></g>
<rect x="149.9" y="388.40" width="7.8" height="7.8" fill="#8dd3c7"/>
<text transform="translate(158.90 395.60) scale(1 1.04)" font-size="8.3" text-anchor="start" fill="#222" stroke="#222" stroke-width="0.129" font-weight="normal" >A3SS</text>
<rect x="149.9" y="403.32" width="7.8" height="7.8" fill="#ffffb3"/>
<text transform="translate(158.90 410.52) scale(1 1.04)" font-size="8.3" text-anchor="start" fill="#222" stroke="#222" stroke-width="0.129" font-weight="normal" >A5SS</text>
<rect x="149.9" y="418.24" width="7.8" height="7.8" fill="#bebada"/>
<text transform="translate(158.90 425.44) scale(1 1.04)" font-size="8.3" text-anchor="start" fill="#222" stroke="#222" stroke-width="0.129" font-weight="normal" >AltEnd</text>
<rect x="149.9" y="433.16" width="7.8" height="7.8" fill="#fb8072"/>
<text transform="translate(158.90 440.36) scale(1 1.04)" font-size="8.3" text-anchor="start" fill="#222" stroke="#222" stroke-width="0.129" font-weight="normal" >AltStart</text>
<rect x="149.9" y="448.08" width="7.8" height="7.8" fill="#80b1d3"/>
<text transform="translate(158.90 455.28) scale(1 1.04)" font-size="8.3" text-anchor="start" fill="#222" stroke="#222" stroke-width="0.129" font-weight="normal" >Cassette</text>
<rect x="149.9" y="463.00" width="7.8" height="7.8" fill="#fdb462"/>
<text transform="translate(158.90 466.40) scale(1 1.04)" font-size="8.3" text-anchor="start" fill="#222" stroke="#222" stroke-width="0.129" font-weight="normal" >Multi</text>
<text transform="translate(158.90 472.40) scale(1 1.04)" font-size="8.3" text-anchor="start" fill="#222" stroke="#222" stroke-width="0.129" font-weight="normal" >Cassette</text>
<rect x="149.9" y="477.92" width="7.8" height="7.8" fill="#b3de69"/>
<text transform="translate(158.90 485.12) scale(1 1.04)" font-size="8.3" text-anchor="start" fill="#222" stroke="#222" stroke-width="0.129" font-weight="normal" >IR</text>
<rect x="149.9" y="492.84" width="7.8" height="7.8" fill="#fccde5"/>
<text transform="translate(158.90 500.04) scale(1 1.04)" font-size="8.3" text-anchor="start" fill="#222" stroke="#222" stroke-width="0.129" font-weight="normal" >MXE</text>
<rect x="318.7" y="31.70" width="106.70" height="125.10" fill="#ebebeb"/>
<line x1="318.7" y1="38.40" x2="425.4" y2="38.40" stroke="#fff" stroke-width="0.9"/>
<line x1="318.7" y1="49.57" x2="425.4" y2="49.57" stroke="#fff" stroke-width="0.9"/>
<line x1="318.7" y1="60.74" x2="425.4" y2="60.74" stroke="#fff" stroke-width="0.9"/>
<line x1="318.7" y1="71.91" x2="425.4" y2="71.91" stroke="#fff" stroke-width="0.9"/>
<line x1="318.7" y1="83.08" x2="425.4" y2="83.08" stroke="#fff" stroke-width="0.9"/>
<line x1="318.7" y1="94.25" x2="425.4" y2="94.25" stroke="#fff" stroke-width="0.9"/>
<line x1="318.7" y1="105.42" x2="425.4" y2="105.42" stroke="#fff" stroke-width="0.9"/>
<line x1="318.7" y1="116.59" x2="425.4" y2="116.59" stroke="#fff" stroke-width="0.9"/>
<line x1="318.7" y1="127.76" x2="425.4" y2="127.76" stroke="#fff" stroke-width="0.9"/>
<line x1="318.7" y1="138.93" x2="425.4" y2="138.93" stroke="#fff" stroke-width="0.9"/>
<line x1="318.7" y1="150.10" x2="425.4" y2="150.10" stroke="#fff" stroke-width="0.9"/>
<line x1="330.9" y1="31.70" x2="330.9" y2="156.80" stroke="#fff" stroke-width="0.9"/>
<line x1="351.5" y1="31.70" x2="351.5" y2="156.80" stroke="#fff" stroke-width="0.9"/>
<line x1="372.1" y1="31.70" x2="372.1" y2="156.80" stroke="#fff" stroke-width="0.9"/>
<line x1="392.7" y1="31.70" x2="392.7" y2="156.80" stroke="#fff" stroke-width="0.9"/>
<line x1="413.3" y1="31.70" x2="413.3" y2="156.80" stroke="#fff" stroke-width="0.9"/>
<circle cx="372.1" cy="38.40" r="2.5" fill="#f0143a"/>
<circle cx="392.7" cy="38.40" r="1.55" fill="#6a22e6"/>
<circle cx="351.5" cy="49.57" r="5.7" fill="#d5107c"/>
<circle cx="413.3" cy="60.74" r="1.4" fill="#3a2cf2"/>
<circle cx="330.9" cy="71.91" r="1.8" fill="#9a1fc8"/>
<circle cx="372.1" cy="83.08" r="2.5" fill="#f0143a"/>
<circle cx="372.1" cy="94.25" r="2.5" fill="#f0143a"/>
<circle cx="413.3" cy="105.42" r="1.45" fill="#3a2cf2"/>
<circle cx="413.3" cy="116.59" r="1.45" fill="#3a2cf2"/>
<circle cx="372.1" cy="127.76" r="2.5" fill="#f0143a"/>
<circle cx="330.9" cy="138.93" r="1.6" fill="#b815a8"/>
<circle cx="392.7" cy="150.10" r="1.55" fill="#6a22e6"/>
<rect x="318.7" y="31.70" width="106.70" height="125.10" fill="none" stroke="#333" stroke-width="0.7"/>
<line x1="316.09999999999997" y1="38.40" x2="318.7" y2="38.40" stroke="#333" stroke-width="0.6"/>
<text transform="translate(314.60 40.65) scale(1 1.12)" font-size="6.33" text-anchor="end" fill="#3a3a3a" stroke="#3a3a3a" stroke-width="0.070" font-weight="normal" >sterol metabolic process</text>
<line x1="316.09999999999997" y1="49.57" x2="318.7" y2="49.57" stroke="#333" stroke-width="0.6"/>
<text transform="translate(314.60 51.82) scale(1 1.12)" font-size="6.33" text-anchor="end" fill="#3a3a3a" stroke="#3a3a3a" stroke-width="0.070" font-weight="normal" >signal transduction</text>
<line x1="316.09999999999997" y1="60.74" x2="318.7" y2="60.74" stroke="#333" stroke-width="0.6"/>
<text transform="translate(314.60 62.99) scale(1 1.12)" font-size="6.33" text-anchor="end" fill="#3a3a3a" stroke="#3a3a3a" stroke-width="0.070" font-weight="normal" >regulation of transferase activity</text>
<line x1="316.09999999999997" y1="71.91" x2="318.7" y2="71.91" stroke="#333" stroke-width="0.6"/>
<text transform="translate(314.60 74.16) scale(1 1.12)" font-size="6.33" text-anchor="end" fill="#3a3a3a" stroke="#3a3a3a" stroke-width="0.070" font-weight="normal" >pyridine-containing compound metabolic process</text>
<line x1="316.09999999999997" y1="83.08" x2="318.7" y2="83.08" stroke="#333" stroke-width="0.6"/>
<text transform="translate(314.60 85.33) scale(1 1.12)" font-size="6.33" text-anchor="end" fill="#3a3a3a" stroke="#3a3a3a" stroke-width="0.070" font-weight="normal" >positive regulation of protein metabolic process</text>
<line x1="316.09999999999997" y1="94.25" x2="318.7" y2="94.25" stroke="#333" stroke-width="0.6"/>
<text transform="translate(314.60 96.50) scale(1 1.12)" font-size="6.33" text-anchor="end" fill="#3a3a3a" stroke="#3a3a3a" stroke-width="0.070" font-weight="normal" >positive regulation of cellular protein metabolic process</text>
<line x1="316.09999999999997" y1="105.42" x2="318.7" y2="105.42" stroke="#333" stroke-width="0.6"/>
<text transform="translate(314.60 107.67) scale(1 1.12)" font-size="6.33" text-anchor="end" fill="#3a3a3a" stroke="#3a3a3a" stroke-width="0.070" font-weight="normal" >isoprenoid metabolic process</text>
<line x1="316.09999999999997" y1="116.59" x2="318.7" y2="116.59" stroke="#333" stroke-width="0.6"/>
<text transform="translate(314.60 118.84) scale(1 1.12)" font-size="6.33" text-anchor="end" fill="#3a3a3a" stroke="#3a3a3a" stroke-width="0.070" font-weight="normal" >isoprenoid biosynthetic process</text>
<line x1="316.09999999999997" y1="127.76" x2="318.7" y2="127.76" stroke="#333" stroke-width="0.6"/>
<text transform="translate(314.60 130.01) scale(1 1.12)" font-size="6.33" text-anchor="end" fill="#3a3a3a" stroke="#3a3a3a" stroke-width="0.070" font-weight="normal" >iron-sulfur cluster assembly</text>
<line x1="316.09999999999997" y1="138.93" x2="318.7" y2="138.93" stroke="#333" stroke-width="0.6"/>
<text transform="translate(314.60 141.18) scale(1 1.12)" font-size="6.33" text-anchor="end" fill="#3a3a3a" stroke="#3a3a3a" stroke-width="0.070" font-weight="normal" >indole-containing compound metabolic process</text>
<line x1="316.09999999999997" y1="150.10" x2="318.7" y2="150.10" stroke="#333" stroke-width="0.6"/>
<text transform="translate(314.60 152.35) scale(1 1.12)" font-size="6.33" text-anchor="end" fill="#3a3a3a" stroke="#3a3a3a" stroke-width="0.070" font-weight="normal" >branched-chain amino acid metabolic process</text>
<rect x="425.9" y="31.70" width="19.4" height="125.10" fill="#d9d9d9"/>
<g transform="translate(435.6 94.25) rotate(90)"><text x="0" y="-1.6" font-size="6.4" fill="#3a3a3a" text-anchor="middle">Biological</text><text x="0" y="5.6" font-size="6.4" fill="#3a3a3a" text-anchor="middle">Process</text></g>
<rect x="318.7" y="161.30" width="106.70" height="35.74" fill="#ebebeb"/>
<line x1="318.7" y1="168.00" x2="425.4" y2="168.00" stroke="#fff" stroke-width="0.9"/>
<line x1="318.7" y1="179.17" x2="425.4" y2="179.17" stroke="#fff" stroke-width="0.9"/>
<line x1="318.7" y1="190.34" x2="425.4" y2="190.34" stroke="#fff" stroke-width="0.9"/>
<line x1="330.9" y1="161.30" x2="330.9" y2="197.04" stroke="#fff" stroke-width="0.9"/>
<line x1="351.5" y1="161.30" x2="351.5" y2="197.04" stroke="#fff" stroke-width="0.9"/>
<line x1="372.1" y1="161.30" x2="372.1" y2="197.04" stroke="#fff" stroke-width="0.9"/>
<line x1="392.7" y1="161.30" x2="392.7" y2="197.04" stroke="#fff" stroke-width="0.9"/>
<line x1="413.3" y1="161.30" x2="413.3" y2="197.04" stroke="#fff" stroke-width="0.9"/>
<circle cx="392.7" cy="168.00" r="1.5" fill="#9a1fc8"/>
<circle cx="330.9" cy="179.17" r="1.6" fill="#9a1fc8"/>
<circle cx="392.7" cy="190.34" r="1.6" fill="#9a1fc8"/>
<rect x="318.7" y="161.30" width="106.70" height="35.74" fill="none" stroke="#333" stroke-width="0.7"/>
<line x1="316.09999999999997" y1="168.00" x2="318.7" y2="168.00" stroke="#333" stroke-width="0.6"/>
<text transform="translate(314.60 170.25) scale(1 1.12)" font-size="6.33" text-anchor="end" fill="#3a3a3a" stroke="#3a3a3a" stroke-width="0.070" font-weight="normal" >small-subunit processome</text>
<line x1="316.09999999999997" y1="179.17" x2="318.7" y2="179.17" stroke="#333" stroke-width="0.6"/>
<text transform="translate(314.60 181.42) scale(1 1.12)" font-size="6.33" text-anchor="end" fill="#3a3a3a" stroke="#3a3a3a" stroke-width="0.070" font-weight="normal" >preribosome, large subunit precursor</text>
<line x1="316.09999999999997" y1="190.34" x2="318.7" y2="190.34" stroke="#333" stroke-width="0.6"/>
<text transform="translate(314.60 192.59) scale(1 1.12)" font-size="6.33" text-anchor="end" fill="#3a3a3a" stroke="#3a3a3a" stroke-width="0.070" font-weight="normal" >methyltransferase complex</text>
<rect x="425.9" y="161.30" width="19.4" height="35.74" fill="#d9d9d9"/>
<g transform="translate(435.6 179.17) rotate(90)"><text x="0" y="-1.6" font-size="6.4" fill="#3a3a3a" text-anchor="middle">Cellular</text><text x="0" y="5.6" font-size="6.4" fill="#3a3a3a" text-anchor="middle">Component</text></g>
<rect x="318.7" y="201.30" width="106.70" height="46.91" fill="#ebebeb"/>
<line x1="318.7" y1="208.00" x2="425.4" y2="208.00" stroke="#fff" stroke-width="0.9"/>
<line x1="318.7" y1="219.17" x2="425.4" y2="219.17" stroke="#fff" stroke-width="0.9"/>
<line x1="318.7" y1="230.34" x2="425.4" y2="230.34" stroke="#fff" stroke-width="0.9"/>
<line x1="318.7" y1="241.51" x2="425.4" y2="241.51" stroke="#fff" stroke-width="0.9"/>
<line x1="330.9" y1="201.30" x2="330.9" y2="248.21" stroke="#fff" stroke-width="0.9"/>
<line x1="351.5" y1="201.30" x2="351.5" y2="248.21" stroke="#fff" stroke-width="0.9"/>
<line x1="372.1" y1="201.30" x2="372.1" y2="248.21" stroke="#fff" stroke-width="0.9"/>
<line x1="392.7" y1="201.30" x2="392.7" y2="248.21" stroke="#fff" stroke-width="0.9"/>
<line x1="413.3" y1="201.30" x2="413.3" y2="248.21" stroke="#fff" stroke-width="0.9"/>
<circle cx="413.3" cy="208.00" r="1.9" fill="#3a2cf2"/>
<circle cx="330.9" cy="219.17" r="1.55" fill="#9a1fc8"/>
<circle cx="413.3" cy="219.17" r="1.4" fill="#3a2cf2"/>
<circle cx="392.7" cy="230.34" r="1.55" fill="#6a22e6"/>
<circle cx="330.9" cy="241.51" r="1.55" fill="#9a1fc8"/>
<circle cx="372.1" cy="241.51" r="2.5" fill="#f0143a"/>
<rect x="318.7" y="201.30" width="106.70" height="46.91" fill="none" stroke="#333" stroke-width="0.7"/>
<line x1="316.09999999999997" y1="208.00" x2="318.7" y2="208.00" stroke="#333" stroke-width="0.6"/>
<text transform="translate(314.60 210.25) scale(1 1.12)" font-size="6.33" text-anchor="end" fill="#3a3a3a" stroke="#3a3a3a" stroke-width="0.070" font-weight="normal" >secondary active transmembrane transporter activity</text>
<line x1="316.09999999999997" y1="219.17" x2="318.7" y2="219.17" stroke="#333" stroke-width="0.6"/>
<text transform="translate(314.60 221.42) scale(1 1.12)" font-size="6.33" text-anchor="end" fill="#3a3a3a" stroke="#3a3a3a" stroke-width="0.070" font-weight="normal" >protein-lysine N-methyltransferase activity</text>
<line x1="316.09999999999997" y1="230.34" x2="318.7" y2="230.34" stroke="#333" stroke-width="0.6"/>
<text transform="translate(314.60 232.59) scale(1 1.12)" font-size="6.33" text-anchor="end" fill="#3a3a3a" stroke="#3a3a3a" stroke-width="0.070" font-weight="normal" >phosphotransferase activity, for other substituted phosphate groups</text>
<line x1="316.09999999999997" y1="241.51" x2="318.7" y2="241.51" stroke="#333" stroke-width="0.6"/>
<text transform="translate(314.60 243.76) scale(1 1.12)" font-size="6.33" text-anchor="end" fill="#3a3a3a" stroke="#3a3a3a" stroke-width="0.070" font-weight="normal" >oxidoreductase activity, acting on paired donors</text>
<rect x="425.9" y="201.30" width="19.4" height="46.91" fill="#d9d9d9"/>
<g transform="translate(435.6 224.76) rotate(90)"><text x="0" y="-1.6" font-size="6.4" fill="#3a3a3a" text-anchor="middle">Molecular</text><text x="0" y="5.6" font-size="6.4" fill="#3a3a3a" text-anchor="middle">Function</text></g>
<line x1="330.9" y1="247.3" x2="330.9" y2="250" stroke="#333" stroke-width="0.6"/>
<line x1="351.5" y1="247.3" x2="351.5" y2="250" stroke="#333" stroke-width="0.6"/>
<line x1="372.1" y1="247.3" x2="372.1" y2="250" stroke="#333" stroke-width="0.6"/>
<line x1="392.7" y1="247.3" x2="392.7" y2="250" stroke="#333" stroke-width="0.6"/>
<line x1="413.3" y1="247.3" x2="413.3" y2="250" stroke="#333" stroke-width="0.6"/>
<g transform="translate(331.80 253.40) rotate(-45) scale(1 1.14)"><text x="0.4" y="3.0" font-size="6.4" fill="#444" stroke="#444" stroke-width="0.08" text-anchor="end">Spore</text></g>
<g transform="translate(335.00 259.50) rotate(-45) scale(1 1.14)"><text x="0.4" y="3.0" font-size="6.4" fill="#444" stroke="#444" stroke-width="0.08" text-anchor="end">germination</text></g>
<g transform="translate(351.60 253.40) rotate(-45) scale(1 1.14)"><text x="0.4" y="3.0" font-size="6.4" fill="#444" stroke="#444" stroke-width="0.08" text-anchor="end">Oidiation</text></g>
<g transform="translate(372.60 253.00) rotate(-45) scale(1 1.14)"><text x="0.4" y="3.0" font-size="6.4" fill="#444" stroke="#444" stroke-width="0.08" text-anchor="end">Sclerotia</text></g>
<g transform="translate(377.50 258.00) rotate(-45) scale(1 1.14)"><text x="0.4" y="3.0" font-size="6.4" fill="#444" stroke="#444" stroke-width="0.08" text-anchor="end">formation</text></g>
<g transform="translate(392.60 252.60) rotate(-45) scale(1 1.14)"><text x="0.4" y="3.0" font-size="6.4" fill="#444" stroke="#444" stroke-width="0.08" text-anchor="end">Fruiting</text></g>
<g transform="translate(413.80 252.60) rotate(-45) scale(1 1.14)"><text x="0.4" y="3.0" font-size="6.4" fill="#444" stroke="#444" stroke-width="0.08" text-anchor="end">Sporulation</text></g>
<text transform="translate(280.80 12.20) scale(1 1.08)" font-size="8.2" text-anchor="start" fill="#1a1a1a" stroke="#1a1a1a" stroke-width="0.128" font-weight="normal" >Enrich factor</text>
<rect x="276.7" y="14.5" width="53.2" height="10.6" fill="url(#enr)"/>
<text transform="translate(274.80 23.90) scale(1 1.1)" font-size="8.0" text-anchor="end" fill="#1a1a1a" stroke="#1a1a1a" stroke-width="0.124" font-weight="normal" >Low</text>
<text transform="translate(331.20 23.90) scale(1 1.1)" font-size="8.0" text-anchor="start" fill="#1a1a1a" stroke="#1a1a1a" stroke-width="0.124" font-weight="normal" >High</text>
<text transform="translate(382.00 14.00) scale(1 1.08)" font-size="8.2" text-anchor="start" fill="#1a1a1a" stroke="#1a1a1a" stroke-width="0.128" font-weight="normal" >Gene ratio</text>
<text transform="translate(353.60 23.70) scale(1 1.08)" font-size="8.4" text-anchor="start" fill="#1a1a1a" stroke="#1a1a1a" stroke-width="0.131" font-weight="normal" >Less</text>
<circle cx="379" cy="20.3" r="2.6" fill="#000"/>
<circle cx="392.4" cy="20.3" r="3.5" fill="#000"/>
<circle cx="406.5" cy="20.3" r="4.3" fill="#000"/>
<circle cx="419.6" cy="20.3" r="5.0" fill="#000"/>
<text transform="translate(428.00 23.70) scale(1 1.08)" font-size="8.4" text-anchor="start" fill="#1a1a1a" stroke="#1a1a1a" stroke-width="0.131" font-weight="normal" >More</text>
<text transform="translate(233.00 312.00) scale(1 0.91)" font-size="9.6" text-anchor="start" fill="#1a1a1a" stroke="#1a1a1a" stroke-width="0.149" font-weight="normal" >Spliceosomal U1 snRNP C (CC2G_010208)</text>
<text x="216.40" y="326.90" font-size="8" text-anchor="end" fill="#1a1a1a" stroke="#1a1a1a" stroke-width="0.124" font-weight="normal" >Myc</text>
<text x="216.40" y="337.00" font-size="8" text-anchor="end" fill="#1a1a1a" stroke="#1a1a1a" stroke-width="0.124" font-weight="normal" >Oidia</text>
<text x="216.40" y="347.10" font-size="8" text-anchor="end" fill="#1a1a1a" stroke="#1a1a1a" stroke-width="0.124" font-weight="normal" >Scl</text>
<text x="216.40" y="357.20" font-size="8" text-anchor="end" fill="#1a1a1a" stroke="#1a1a1a" stroke-width="0.124" font-weight="normal" >Knot</text>
<text x="216.40" y="367.30" font-size="8" text-anchor="end" fill="#1a1a1a" stroke="#1a1a1a" stroke-width="0.124" font-weight="normal" >Pri</text>
<text x="216.40" y="377.40" font-size="8" text-anchor="end" fill="#1a1a1a" stroke="#1a1a1a" stroke-width="0.124" font-weight="normal" >YFB</text>
<rect x="240.30" y="325.30" width="10.60" height="1.10" fill="#0b0bf2" opacity="0.85"/>
<rect x="268.00" y="325.90" width="11.70" height="0.50" fill="#0b0bf2" opacity="0.85"/>
<polygon points="218.30,326.40 218.30,324.00 223.50,322.80 223.50,322.80 230.50,322.40 230.50,322.40 240.60,321.90 240.60,326.40" fill="#0b0bf2"/>
<polygon points="250.50,326.40 250.50,322.20 262.00,322.30 262.00,322.30 268.30,323.00 268.30,326.40" fill="#0b0bf2"/>
<polygon points="279.40,326.40 279.40,322.40 290.00,323.40 290.00,323.40 309.40,325.40 309.40,326.40" fill="#0b0bf2"/>
<rect x="240.30" y="334.74" width="10.60" height="1.40" fill="#0b0bf2" opacity="0.85"/>
<rect x="268.00" y="335.64" width="11.70" height="0.50" fill="#0b0bf2" opacity="0.85"/>
<polygon points="218.30,336.14 218.30,333.54 223.50,332.49 223.50,332.49 230.50,332.24 230.50,332.24 240.60,331.84 240.60,336.14" fill="#0b0bf2"/>
<polygon points="250.50,336.14 250.50,332.14 262.00,332.24 262.00,332.24 268.30,332.94 268.30,336.14" fill="#0b0bf2"/>
<polygon points="279.40,336.14 279.40,332.34 290.00,333.24 290.00,333.24 309.40,334.94 309.40,336.14" fill="#0b0bf2"/>
<rect x="240.30" y="345.28" width="10.60" height="0.60" fill="#0b0bf2" opacity="0.85"/>
<rect x="268.00" y="345.48" width="11.70" height="0.40" fill="#0b0bf2" opacity="0.85"/>
<polygon points="218.30,345.88 218.30,342.88 223.50,342.23 223.50,342.23 230.50,342.38 230.50,342.38 240.60,342.18 240.60,345.88" fill="#0b0bf2"/>
<polygon points="250.50,345.88 250.50,342.28 262.00,342.38 262.00,342.38 268.30,342.88 268.30,345.88" fill="#0b0bf2"/>
<polygon points="279.40,345.88 279.40,342.28 290.00,342.68 290.00,342.68 309.40,343.48 309.40,345.88" fill="#0b0bf2"/>
<rect x="240.30" y="354.22" width="10.60" height="1.40" fill="#0b0bf2" opacity="0.85"/>
<rect x="268.00" y="355.12" width="11.70" height="0.50" fill="#0b0bf2" opacity="0.85"/>
<polygon points="218.30,355.62 218.30,353.62 223.50,352.22 223.50,352.22 230.50,351.62 230.50,351.62 240.60,351.02 240.60,355.62" fill="#0b0bf2"/>
<polygon points="250.50,355.62 250.50,351.42 262.00,352.02 262.00,352.02 268.30,352.62 268.30,355.62" fill="#0b0bf2"/>
<polygon points="279.40,355.62 279.40,352.42 290.00,353.22 290.00,353.22 309.40,354.62 309.40,355.62" fill="#0b0bf2"/>
<polygon points="218.30,365.36 218.30,363.36 223.50,362.16 223.50,362.16 230.50,361.76 230.50,361.76 240.60,360.96 240.60,365.36" fill="#0b0bf2"/>
<polygon points="250.50,365.36 250.50,361.36 262.00,361.36 262.00,361.36 268.30,361.76 268.30,365.36" fill="#0b0bf2"/>
<polygon points="279.40,365.36 279.40,361.16 290.00,362.16 290.00,362.16 309.40,364.16 309.40,365.36" fill="#0b0bf2"/>
<rect x="240.30" y="374.80" width="10.60" height="0.30" fill="#0b0bf2" opacity="0.85"/>
<rect x="268.00" y="374.80" width="11.70" height="0.30" fill="#0b0bf2" opacity="0.85"/>
<polygon points="218.30,375.10 218.30,372.90 223.50,371.75 223.50,371.75 230.50,371.40 230.50,371.40 240.60,370.70 240.60,375.10" fill="#0b0bf2"/>
<polygon points="250.50,375.10 250.50,371.10 262.00,371.10 262.00,371.10 268.30,371.50 268.30,375.10" fill="#0b0bf2"/>
<polygon points="279.40,375.10 279.40,371.10 290.00,372.10 290.00,372.10 309.40,373.90 309.40,375.10" fill="#0b0bf2"/>
<text transform="translate(314.00 326.80) scale(1 1.05)" font-size="8.2" text-anchor="start" fill="#1a1a1a" stroke="#1a1a1a" stroke-width="0.128" font-weight="normal" >Myc</text>
<text transform="translate(336.70 326.80) scale(1 1.05)" font-size="8.2" text-anchor="start" fill="#1a1a1a" stroke="#1a1a1a" stroke-width="0.128" font-weight="normal" >Oidia</text>
<text transform="translate(364.00 326.80) scale(1 1.05)" font-size="8.2" text-anchor="start" fill="#1a1a1a" stroke="#1a1a1a" stroke-width="0.128" font-weight="normal" >Scl</text>
<text transform="translate(382.70 326.80) scale(1 1.05)" font-size="8.2" text-anchor="start" fill="#1a1a1a" stroke="#1a1a1a" stroke-width="0.128" font-weight="normal" >Knot</text>
<text transform="translate(407.70 326.80) scale(1 1.05)" font-size="8.2" text-anchor="start" fill="#1a1a1a" stroke="#1a1a1a" stroke-width="0.128" font-weight="normal" >Pri</text>
<text transform="translate(426.00 326.80) scale(1 1.05)" font-size="8.2" text-anchor="start" fill="#1a1a1a" stroke="#1a1a1a" stroke-width="0.128" font-weight="normal" >YFB</text>
<text transform="translate(270.90 391.00) scale(1 0.91)" font-size="9.6" text-anchor="start" fill="#1a1a1a" stroke="#1a1a1a" stroke-width="0.149" font-weight="normal" >RhoGAP (CC2G_009456)</text>
<text x="216.40" y="405.90" font-size="8" text-anchor="end" fill="#1a1a1a" stroke="#1a1a1a" stroke-width="0.124" font-weight="normal" >Myc</text>
<text x="216.40" y="415.98" font-size="8" text-anchor="end" fill="#1a1a1a" stroke="#1a1a1a" stroke-width="0.124" font-weight="normal" >Oidia</text>
<text x="216.40" y="426.06" font-size="8" text-anchor="end" fill="#1a1a1a" stroke="#1a1a1a" stroke-width="0.124" font-weight="normal" >Scl</text>
<text x="216.40" y="436.14" font-size="8" text-anchor="end" fill="#1a1a1a" stroke="#1a1a1a" stroke-width="0.124" font-weight="normal" >Knot</text>
<text x="216.40" y="446.22" font-size="8" text-anchor="end" fill="#1a1a1a" stroke="#1a1a1a" stroke-width="0.124" font-weight="normal" >Pri</text>
<text x="216.40" y="456.30" font-size="8" text-anchor="end" fill="#1a1a1a" stroke="#1a1a1a" stroke-width="0.124" font-weight="normal" >YFB</text>
<polygon points="218.30,405.70 218.30,401.70 243.90,402.10 243.90,403.70 252.80,403.70 252.80,401.10 270.60,401.50 270.60,405.70" fill="#0b0bf2"/>
<polygon points="279.90,405.70 279.90,401.50 309.40,401.90 309.40,405.70" fill="#0b0bf2"/>
<polygon points="218.30,415.70 218.30,411.50 243.90,412.30 243.90,414.10 252.80,414.10 252.80,411.50 270.60,411.70 270.60,415.70" fill="#0b0bf2"/>
<polygon points="279.90,415.70 279.90,411.70 309.40,411.90 309.40,415.70" fill="#0b0bf2"/>
<polygon points="218.30,425.70 218.30,422.10 243.90,421.70 243.90,423.30 252.80,423.30 252.80,421.70 270.60,421.70 270.60,425.70" fill="#0b0bf2"/>
<polygon points="279.90,425.70 279.90,421.70 309.40,421.90 309.40,425.70" fill="#0b0bf2"/>
<polygon points="218.30,435.70 218.30,431.70 243.90,431.90 243.90,434.50 252.80,434.50 252.80,431.50 270.60,431.70 270.60,435.70" fill="#0b0bf2"/>
<polygon points="279.90,435.70 279.90,431.50 309.40,431.90 309.40,435.70" fill="#0b0bf2"/>
<polygon points="218.30,445.70 218.30,442.30 243.90,441.90 243.90,445.10 252.80,445.10 252.80,441.50 270.60,441.90 270.60,445.70" fill="#0b0bf2"/>
<polygon points="279.90,445.70 279.90,441.70 309.40,442.30 309.40,445.70" fill="#0b0bf2"/>
<polygon points="218.30,455.70 218.30,450.70 243.90,451.10 243.90,455.10 252.80,455.10 252.80,451.50 270.60,453.50 270.60,455.70" fill="#0b0bf2"/>
<polygon points="279.90,455.70 279.90,452.70 309.40,454.70 309.40,455.70" fill="#0b0bf2"/>
<text transform="translate(314.00 405.80) scale(1 1.05)" font-size="8.2" text-anchor="start" fill="#1a1a1a" stroke="#1a1a1a" stroke-width="0.128" font-weight="normal" >Myc</text>
<text transform="translate(336.70 405.80) scale(1 1.05)" font-size="8.2" text-anchor="start" fill="#1a1a1a" stroke="#1a1a1a" stroke-width="0.128" font-weight="normal" >Oidia</text>
<text transform="translate(364.00 405.80) scale(1 1.05)" font-size="8.2" text-anchor="start" fill="#1a1a1a" stroke="#1a1a1a" stroke-width="0.128" font-weight="normal" >Scl</text>
<text transform="translate(382.70 405.80) scale(1 1.05)" font-size="8.2" text-anchor="start" fill="#1a1a1a" stroke="#1a1a1a" stroke-width="0.128" font-weight="normal" >Knot</text>
<text transform="translate(407.70 405.80) scale(1 1.05)" font-size="8.2" text-anchor="start" fill="#1a1a1a" stroke="#1a1a1a" stroke-width="0.128" font-weight="normal" >Pri</text>
<text transform="translate(426.00 405.80) scale(1 1.05)" font-size="8.2" text-anchor="start" fill="#1a1a1a" stroke="#1a1a1a" stroke-width="0.128" font-weight="normal" >YFB</text>
<text transform="translate(233.60 469.50) scale(1 0.91)" font-size="9.6" text-anchor="start" fill="#1a1a1a" stroke="#1a1a1a" stroke-width="0.149" font-weight="normal" >STE/STE11 protein kinase (CC2G_011916)</text>
<text x="216.40" y="482.90" font-size="8" text-anchor="end" fill="#1a1a1a" stroke="#1a1a1a" stroke-width="0.124" font-weight="normal" >Myc</text>
<text x="216.40" y="492.86" font-size="8" text-anchor="end" fill="#1a1a1a" stroke="#1a1a1a" stroke-width="0.124" font-weight="normal" >Oidia</text>
<text x="216.40" y="502.82" font-size="8" text-anchor="end" fill="#1a1a1a" stroke="#1a1a1a" stroke-width="0.124" font-weight="normal" >Scl</text>
<text x="216.40" y="512.78" font-size="8" text-anchor="end" fill="#1a1a1a" stroke="#1a1a1a" stroke-width="0.124" font-weight="normal" >Knot</text>
<text x="216.40" y="522.74" font-size="8" text-anchor="end" fill="#1a1a1a" stroke="#1a1a1a" stroke-width="0.124" font-weight="normal" >Pri</text>
<text x="216.40" y="532.70" font-size="8" text-anchor="end" fill="#1a1a1a" stroke="#1a1a1a" stroke-width="0.124" font-weight="normal" >YFB</text>
<polygon points="218.30,483.30 218.30,479.30 240.00,479.80 240.00,479.80 260.60,480.30 260.60,481.30 279.40,481.30 279.40,481.30 300.00,479.50 300.00,479.50 309.40,478.30 309.40,483.30" fill="#0b0bf2"/>
<polygon points="218.30,493.26 218.30,488.66 240.00,489.56 240.00,489.56 260.60,490.46 260.60,491.06 279.40,491.06 279.40,491.06 300.00,489.76 300.00,489.76 309.40,489.06 309.40,493.26" fill="#0b0bf2"/>
<polygon points="218.30,503.22 218.30,499.62 240.00,499.72 240.00,499.72 260.60,499.82 260.60,500.62 279.40,500.62 279.40,500.62 300.00,499.82 300.00,499.82 309.40,499.62 309.40,503.22" fill="#0b0bf2"/>
<polygon points="218.30,513.18 218.30,508.58 240.00,509.58 240.00,509.58 260.60,510.58 260.60,511.18 279.40,511.18 279.40,511.18 300.00,509.58 300.00,509.58 309.40,508.58 309.40,513.18" fill="#0b0bf2"/>
<polygon points="218.30,523.14 218.30,518.94 240.00,519.54 240.00,519.54 260.60,520.14 260.60,520.94 279.40,520.94 279.40,520.94 300.00,520.14 300.00,520.14 309.40,519.94 309.40,523.14" fill="#0b0bf2"/>
<polygon points="218.30,533.10 218.30,528.50 240.00,529.60 240.00,529.60 260.60,530.70 260.60,531.10 279.40,531.10 279.40,531.10 300.00,530.20 300.00,530.20 309.40,529.90 309.40,533.10" fill="#0b0bf2"/>
<text transform="translate(314.50 483.60) scale(1 1.05)" font-size="8.2" text-anchor="start" fill="#1a1a1a" stroke="#1a1a1a" stroke-width="0.128" font-weight="normal" >Myc</text>
<text transform="translate(335.60 483.60) scale(1 1.05)" font-size="8.2" text-anchor="start" fill="#1a1a1a" stroke="#1a1a1a" stroke-width="0.128" font-weight="normal" >Oidia</text>
<text transform="translate(362.90 483.60) scale(1 1.05)" font-size="8.2" text-anchor="start" fill="#1a1a1a" stroke="#1a1a1a" stroke-width="0.128" font-weight="normal" >Scl</text>
<text transform="translate(381.00 483.60) scale(1 1.05)" font-size="8.2" text-anchor="start" fill="#1a1a1a" stroke="#1a1a1a" stroke-width="0.128" font-weight="normal" >Knot</text>
<text transform="translate(405.00 483.60) scale(1 1.05)" font-size="8.2" text-anchor="start" fill="#1a1a1a" stroke="#1a1a1a" stroke-width="0.128" font-weight="normal" >Pri</text>
<text transform="translate(425.60 483.60) scale(1 1.05)" font-size="8.2" text-anchor="start" fill="#1a1a1a" stroke="#1a1a1a" stroke-width="0.128" font-weight="normal" >YFB</text>
<clipPath id="gc1"><rect x="313.3" y="335.9" width="128.50" height="40.40"/></clipPath>
<rect x="313.3" y="335.9" width="128.50" height="40.40" fill="#1a1a1a"/>
<g clip-path="url(#gc1)">
<g filter="url(#blur2)">
<rect x="337.80" y="343.00" width="13.00" height="18.00" rx="3" fill="#363636"/>
<rect x="380.00" y="343.00" width="13.00" height="14.00" rx="3" fill="#3e3e3e"/>
<rect x="315.80" y="348.00" width="13.00" height="14.00" rx="3" fill="#262626"/>
<rect x="401.00" y="349.00" width="14.00" height="14.00" rx="3" fill="#2a2a2a"/>
<rect x="423.20" y="350.00" width="13.00" height="12.00" rx="3" fill="#242424"/>
<rect x="313.80" y="361.70" width="17.00" height="7.00" rx="3" fill="#303030"/>
<rect x="335.30" y="361.20" width="18.00" height="8.00" rx="3" fill="#454545"/>
<rect x="378.00" y="360.50" width="17.00" height="7.00" rx="3" fill="#3e3e3e"/>
<rect x="398.50" y="360.00" width="19.00" height="8.00" rx="3" fill="#585858"/>
<rect x="421.20" y="360.50" width="17.00" height="7.00" rx="3" fill="#383838"/>
</g>
<g filter="url(#blur)">
<rect x="315.80" y="364.00" width="13.00" height="2.80" rx="1.40" fill="#707070"/>
<rect x="337.30" y="363.20" width="14.00" height="3.60" rx="1.80" fill="#c4c4c4"/>
<rect x="361.20" y="364.40" width="12.00" height="2.20" rx="1.10" fill="#2c2c2c"/>
<rect x="379.50" y="362.30" width="14.00" height="3.20" rx="1.60" fill="#a8a8a8"/>
<rect x="400.50" y="361.60" width="15.00" height="4.20" rx="2.00" fill="#f2f2f2"/>
<rect x="422.70" y="362.40" width="14.00" height="3.20" rx="1.60" fill="#959595"/>
</g>

</g>
<clipPath id="gc2"><rect x="313.1" y="414.7" width="129.30" height="41.30"/></clipPath>
<rect x="313.1" y="414.7" width="129.30" height="41.30" fill="#1a1a1a"/>
<g clip-path="url(#gc2)">
<g filter="url(#blur2)">
<rect x="314.30" y="423.00" width="16.00" height="20.00" rx="3" fill="#484848"/>
<rect x="335.80" y="423.00" width="17.00" height="22.00" rx="3" fill="#525252"/>
<rect x="378.50" y="424.00" width="16.00" height="20.00" rx="3" fill="#464646"/>
<rect x="400.00" y="424.00" width="16.00" height="22.00" rx="3" fill="#4a4a4a"/>
<rect x="421.20" y="421.00" width="17.00" height="24.00" rx="3" fill="#555"/>
<rect x="360.20" y="426.00" width="14.00" height="20.00" rx="3" fill="#2a2a2a"/>
</g>
<g filter="url(#blur)">
<rect x="315.80" y="430.00" width="13.00" height="6.00" rx="2.00" fill="#5a5a5a"/>
<rect x="337.30" y="430.50" width="14.00" height="7.00" rx="2.00" fill="#6c6c6c"/>
<rect x="379.50" y="431.00" width="14.00" height="6.00" rx="2.00" fill="#555"/>
<rect x="401.00" y="429.80" width="14.00" height="4.00" rx="2.00" fill="#626262"/>
<rect x="401.00" y="437.20" width="14.00" height="3.60" rx="1.80" fill="#585858"/>
<rect x="422.20" y="428.40" width="15.00" height="4.40" rx="2.00" fill="#666"/>
<rect x="422.20" y="436.60" width="15.00" height="4.00" rx="2.00" fill="#6e6e6e"/>
</g>
<rect x="315" y="442" width="1.2" height="1.2" fill="#aaa"/><rect x="361.5" y="445.5" width="1.6" height="1.6" fill="#ddd"/>
</g>
<clipPath id="gc3"><rect x="313.1" y="494.2" width="129.30" height="39.80"/></clipPath>
<rect x="313.1" y="494.2" width="129.30" height="39.80" fill="#1a1a1a"/>
<g clip-path="url(#gc3)">
<g filter="url(#blur2)">
<rect x="313.00" y="502.00" width="18.00" height="26.00" rx="3" fill="#4a4a4a"/>
<rect x="336.00" y="502.00" width="18.00" height="26.00" rx="3" fill="#4a4a4a"/>
<rect x="357.70" y="502.00" width="18.00" height="26.00" rx="3" fill="#4a4a4a"/>
<rect x="378.30" y="502.00" width="18.00" height="26.00" rx="3" fill="#4a4a4a"/>
<rect x="400.00" y="502.00" width="18.00" height="26.00" rx="3" fill="#4a4a4a"/>
<rect x="421.80" y="502.00" width="18.00" height="26.00" rx="3" fill="#4a4a4a"/>
</g>
<g filter="url(#blur)">
<rect x="315.00" y="508.50" width="14.00" height="3.80" rx="1.90" fill="#8a8a8a"/>
<rect x="315.00" y="516.50" width="14.00" height="4.00" rx="2.00" fill="#c0c0c0"/>
<rect x="337.50" y="506.90" width="15.00" height="5.80" rx="2.00" fill="#f4f4f4"/>
<rect x="337.50" y="516.00" width="15.00" height="4.40" rx="2.00" fill="#dedede"/>
<rect x="359.70" y="508.40" width="14.00" height="4.00" rx="2.00" fill="#c0c0c0"/>
<rect x="359.70" y="516.20" width="14.00" height="4.60" rx="2.00" fill="#e0e0e0"/>
<rect x="379.80" y="508.30" width="15.00" height="4.20" rx="2.00" fill="#d0d0d0"/>
<rect x="379.80" y="516.90" width="15.00" height="4.40" rx="2.00" fill="#d4d4d4"/>
<rect x="401.50" y="510.70" width="15.00" height="4.60" rx="2.00" fill="#e8e8e8"/>
<rect x="402.00" y="518.70" width="14.00" height="3.60" rx="1.80" fill="#909090"/>
<rect x="422.80" y="512.00" width="16.00" height="5.20" rx="2.00" fill="#f2f2f2"/>
<rect x="423.30" y="520.50" width="15.00" height="4.20" rx="2.00" fill="#cacaca"/>
</g>
<path d="M350 519 Q351 527 355 531" stroke="#bbb" stroke-width="0.6" fill="none"/>
</g>
</svg></body></html>
